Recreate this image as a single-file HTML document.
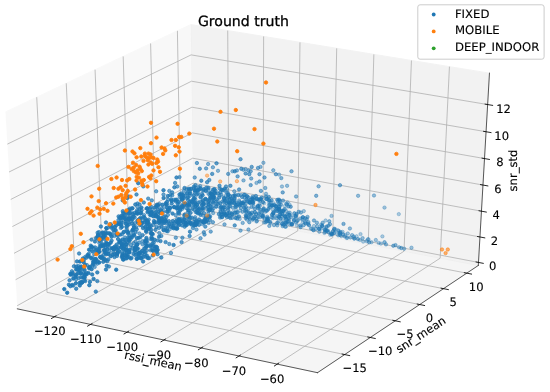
<!DOCTYPE html>
<html><head><meta charset="utf-8"><style>
html,body{margin:0;padding:0;background:#fff;}
body{width:550px;height:392px;overflow:hidden;}
svg{display:block;}
text{text-rendering:geometricPrecision;}
</style></head><body>
<svg width="550" height="392" viewBox="0 0 550 392"> <defs> <style type="text/css">*{stroke-linejoin: round; stroke-linecap: butt}</style> </defs> <g id="figure_1"> <g id="pane3d_1"> <g id="patch_1"> <path d="M 17.37 308.85  L 193.44 210.88  L 190.70 24.54  L 5.42 111.96  " style="fill: #f2f2f2; opacity: 0.5; stroke: #f2f2f2; stroke-linejoin: miter"/> </g> </g> <g id="pane3d_2"> <g id="patch_2"> <path d="M 193.44 210.88  L 478.30 265.47  L 489.47 73.17  L 190.70 24.54  " style="fill: #e6e6e6; opacity: 0.5; stroke: #e6e6e6; stroke-linejoin: miter"/> </g> </g> <g id="pane3d_3"> <g id="patch_3"> <path d="M 17.37 308.85  L 317.50 372.68  L 478.30 265.47  L 193.44 210.88  " style="fill: #ececec; opacity: 0.5; stroke: #ececec; stroke-linejoin: miter"/> </g> </g> <g id="grid3d_1"> <g id="Line3DCollection_1"> <path d="M 54.51 316.75  L 228.80 217.65  L 227.72 30.57  " style="fill: none; stroke: #b0b0b0; stroke-width: 0.8"/> <path d="M 90.57 324.41  L 263.10 224.23  L 263.64 36.41  " style="fill: none; stroke: #b0b0b0; stroke-width: 0.8"/> <path d="M 127.04 332.17  L 297.76 230.87  L 299.97 42.33  " style="fill: none; stroke: #b0b0b0; stroke-width: 0.8"/> <path d="M 163.94 340.02  L 332.80 237.58  L 336.71 48.31  " style="fill: none; stroke: #b0b0b0; stroke-width: 0.8"/> <path d="M 201.26 347.96  L 368.22 244.37  L 373.86 54.35  " style="fill: none; stroke: #b0b0b0; stroke-width: 0.8"/> <path d="M 239.03 355.99  L 404.02 251.23  L 411.43 60.47  " style="fill: none; stroke: #b0b0b0; stroke-width: 0.8"/> <path d="M 277.23 364.11  L 440.20 258.17  L 449.44 66.65  " style="fill: none; stroke: #b0b0b0; stroke-width: 0.8"/> </g> </g> <g id="grid3d_2"> <g id="Line3DCollection_2"> <path d="M 36.72 97.19  L 47.02 292.35  L 344.66 354.57  " style="fill: none; stroke: #b0b0b0; stroke-width: 0.8"/> <path d="M 66.26 83.25  L 75.04 276.76  L 370.29 337.48  " style="fill: none; stroke: #b0b0b0; stroke-width: 0.8"/> <path d="M 95.07 69.66  L 102.40 261.54  L 395.30 320.81  " style="fill: none; stroke: #b0b0b0; stroke-width: 0.8"/> <path d="M 123.18 56.40  L 129.12 246.66  L 419.69 304.54  " style="fill: none; stroke: #b0b0b0; stroke-width: 0.8"/> <path d="M 150.61 43.45  L 155.24 232.13  L 443.51 288.67  " style="fill: none; stroke: #b0b0b0; stroke-width: 0.8"/> <path d="M 177.40 30.81  L 180.76 217.93  L 466.76 273.16  " style="fill: none; stroke: #b0b0b0; stroke-width: 0.8"/> </g> </g> <g id="grid3d_3"> <g id="Line3DCollection_3"> <path d="M 478.48 262.42  L 193.39 207.92  L 17.18 305.73  " style="fill: none; stroke: #b0b0b0; stroke-width: 0.8"/> <path d="M 479.96 236.97  L 193.03 183.21  L 15.60 279.71  " style="fill: none; stroke: #b0b0b0; stroke-width: 0.8"/> <path d="M 481.45 211.18  L 192.66 158.19  L 14.00 253.33  " style="fill: none; stroke: #b0b0b0; stroke-width: 0.8"/> <path d="M 482.97 185.05  L 192.29 132.86  L 12.38 226.59  " style="fill: none; stroke: #b0b0b0; stroke-width: 0.8"/> <path d="M 484.51 158.57  L 191.91 107.20  L 10.73 199.48  " style="fill: none; stroke: #b0b0b0; stroke-width: 0.8"/> <path d="M 486.07 131.74  L 191.53 81.21  L 9.06 172.00  " style="fill: none; stroke: #b0b0b0; stroke-width: 0.8"/> <path d="M 487.65 104.55  L 191.14 54.89  L 7.37 144.13  " style="fill: none; stroke: #b0b0b0; stroke-width: 0.8"/> </g> </g> <g id="axis3d_1"> <g id="line2d_1"> <path d="M 17.37 308.85  L 317.50 372.68  " style="fill: none; stroke: #3a3a3a; stroke-width: 0.85; stroke-linecap: square"/> </g> <g id="xtick_1"> <g id="line2d_2"> <path d="M 56.01 315.89  L 51.49 318.46  " style="fill: none; stroke: #000000; stroke-width: 0.85; stroke-linecap: square"/> </g> </g> <g id="xtick_2"> <g id="line2d_3"> <path d="M 92.06 323.55  L 87.58 326.15  " style="fill: none; stroke: #000000; stroke-width: 0.85; stroke-linecap: square"/> </g> </g> <g id="xtick_3"> <g id="line2d_4"> <path d="M 128.52 331.30  L 124.08 333.93  " style="fill: none; stroke: #000000; stroke-width: 0.85; stroke-linecap: square"/> </g> </g> <g id="xtick_4"> <g id="line2d_5"> <path d="M 165.40 339.13  L 161.01 341.79  " style="fill: none; stroke: #000000; stroke-width: 0.85; stroke-linecap: square"/> </g> </g> <g id="xtick_5"> <g id="line2d_6"> <path d="M 202.71 347.06  L 198.37 349.75  " style="fill: none; stroke: #000000; stroke-width: 0.85; stroke-linecap: square"/> </g> </g> <g id="xtick_6"> <g id="line2d_7"> <path d="M 240.45 355.08  L 236.17 357.80  " style="fill: none; stroke: #000000; stroke-width: 0.85; stroke-linecap: square"/> </g> </g> <g id="xtick_7"> <g id="line2d_8"> <path d="M 278.64 363.20  L 274.41 365.95  " style="fill: none; stroke: #000000; stroke-width: 0.85; stroke-linecap: square"/> </g> </g> </g> <g id="axis3d_2"> <g id="line2d_9"> <path d="M 478.30 265.47  L 317.50 372.68  " style="fill: none; stroke: #3a3a3a; stroke-width: 0.85; stroke-linecap: square"/> </g> <g id="xtick_8"> <g id="line2d_10"> <path d="M 342.17 354.05  L 349.65 355.61  " style="fill: none; stroke: #000000; stroke-width: 0.85; stroke-linecap: square"/> </g> </g> <g id="xtick_9"> <g id="line2d_11"> <path d="M 367.82 336.97  L 375.24 338.50  " style="fill: none; stroke: #000000; stroke-width: 0.85; stroke-linecap: square"/> </g> </g> <g id="xtick_10"> <g id="line2d_12"> <path d="M 392.84 320.31  L 400.20 321.80  " style="fill: none; stroke: #000000; stroke-width: 0.85; stroke-linecap: square"/> </g> </g> <g id="xtick_11"> <g id="line2d_13"> <path d="M 417.26 304.06  L 424.56 305.51  " style="fill: none; stroke: #000000; stroke-width: 0.85; stroke-linecap: square"/> </g> </g> <g id="xtick_12"> <g id="line2d_14"> <path d="M 441.10 288.19  L 448.33 289.61  " style="fill: none; stroke: #000000; stroke-width: 0.85; stroke-linecap: square"/> </g> </g> <g id="xtick_13"> <g id="line2d_15"> <path d="M 464.37 272.70  L 471.54 274.09  " style="fill: none; stroke: #000000; stroke-width: 0.85; stroke-linecap: square"/> </g> </g> </g> <g id="axis3d_3"> <g id="line2d_16"> <path d="M 478.30 265.47  L 489.47 73.17  " style="fill: none; stroke: #3a3a3a; stroke-width: 0.85; stroke-linecap: square"/> </g> <g id="xtick_14"> <g id="line2d_17"> <path d="M 476.10 261.97  L 483.25 263.33  " style="fill: none; stroke: #000000; stroke-width: 0.85; stroke-linecap: square"/> </g> </g> <g id="xtick_15"> <g id="line2d_18"> <path d="M 477.56 236.52  L 484.76 237.87  " style="fill: none; stroke: #000000; stroke-width: 0.85; stroke-linecap: square"/> </g> </g> <g id="xtick_16"> <g id="line2d_19"> <path d="M 479.04 210.74  L 486.29 212.07  " style="fill: none; stroke: #000000; stroke-width: 0.85; stroke-linecap: square"/> </g> </g> <g id="xtick_17"> <g id="line2d_20"> <path d="M 480.54 184.61  L 487.84 185.92  " style="fill: none; stroke: #000000; stroke-width: 0.85; stroke-linecap: square"/> </g> </g> <g id="xtick_18"> <g id="line2d_21"> <path d="M 482.06 158.14  L 489.41 159.43  " style="fill: none; stroke: #000000; stroke-width: 0.85; stroke-linecap: square"/> </g> </g> <g id="xtick_19"> <g id="line2d_22"> <path d="M 483.60 131.32  L 491.00 132.59  " style="fill: none; stroke: #000000; stroke-width: 0.85; stroke-linecap: square"/> </g> </g> <g id="xtick_20"> <g id="line2d_23"> <path d="M 485.16 104.14  L 492.61 105.38  " style="fill: none; stroke: #000000; stroke-width: 0.85; stroke-linecap: square"/> </g> </g> </g> <g id="axes_1"/> </g> <g style="stroke-width:0.9"><g style="fill:#1f77b4;stroke:#1f77b4;fill-opacity:0.3;stroke-opacity:0.3"><circle cx="258.8" cy="214.3" r="1.7"/><circle cx="286.1" cy="222.7" r="1.7"/><circle cx="265.3" cy="211.9" r="1.7"/><circle cx="252.9" cy="199.1" r="1.7"/><circle cx="253.5" cy="218.7" r="1.7"/><circle cx="279.0" cy="216.3" r="1.7"/><circle cx="252.8" cy="199.2" r="1.7"/><circle cx="264.2" cy="203.2" r="1.7"/><circle cx="277.0" cy="204.0" r="1.7"/><circle cx="289.5" cy="214.9" r="1.7"/><circle cx="267.1" cy="199.1" r="1.7"/><circle cx="288.2" cy="212.9" r="1.7"/><circle cx="284.5" cy="206.3" r="1.7"/><circle cx="285.4" cy="208.9" r="1.7"/><circle cx="288.1" cy="214.5" r="1.7"/><circle cx="289.5" cy="204.4" r="1.7"/><circle cx="269.1" cy="202.8" r="1.7"/><circle cx="335.7" cy="229.4" r="1.7"/><circle cx="326.9" cy="230.9" r="1.7"/><circle cx="292.0" cy="224.5" r="1.7"/><circle cx="324.8" cy="232.0" r="1.7"/><circle cx="338.0" cy="230.3" r="1.7"/><circle cx="332.1" cy="234.0" r="1.7"/><circle cx="368.5" cy="239.3" r="1.7"/><circle cx="302.8" cy="222.2" r="1.7"/><circle cx="302.8" cy="219.8" r="1.7"/><circle cx="341.3" cy="236.2" r="1.7"/><circle cx="335.0" cy="232.6" r="1.7"/><circle cx="297.0" cy="225.5" r="1.7"/><circle cx="345.4" cy="234.9" r="1.7"/><circle cx="321.1" cy="228.7" r="1.7"/><circle cx="306.1" cy="223.6" r="1.7"/><circle cx="328.0" cy="230.6" r="1.7"/><circle cx="312.7" cy="228.9" r="1.7"/><circle cx="324.4" cy="233.0" r="1.7"/><circle cx="339.0" cy="232.8" r="1.7"/><circle cx="298.2" cy="219.9" r="1.7"/><circle cx="302.9" cy="217.2" r="1.7"/><circle cx="326.3" cy="227.5" r="1.7"/><circle cx="356.6" cy="236.3" r="1.7"/></g><g style="fill:#1f77b4;stroke:#1f77b4;fill-opacity:0.35;stroke-opacity:0.35"><circle cx="325.6" cy="220.5" r="1.7"/><circle cx="360.5" cy="234.1" r="1.7"/><circle cx="398.8" cy="214.1" r="1.7"/><circle cx="382.4" cy="236.4" r="1.7"/><circle cx="371.5" cy="242.2" r="1.7"/><circle cx="378.7" cy="242.9" r="1.7"/><circle cx="380.9" cy="243.6" r="1.7"/><circle cx="252.9" cy="218.9" r="1.7"/><circle cx="278.9" cy="221.0" r="1.7"/><circle cx="238.4" cy="194.7" r="1.7"/><circle cx="270.4" cy="223.2" r="1.7"/><circle cx="285.0" cy="223.0" r="1.7"/><circle cx="236.7" cy="215.6" r="1.7"/><circle cx="272.8" cy="209.5" r="1.7"/><circle cx="268.8" cy="205.5" r="1.7"/><circle cx="276.6" cy="207.1" r="1.7"/><circle cx="268.3" cy="209.2" r="1.7"/><circle cx="270.5" cy="202.8" r="1.7"/><circle cx="285.7" cy="216.5" r="1.7"/><circle cx="246.6" cy="199.4" r="1.7"/><circle cx="287.7" cy="218.1" r="1.7"/><circle cx="287.2" cy="214.3" r="1.7"/><circle cx="240.2" cy="210.5" r="1.7"/><circle cx="278.0" cy="201.3" r="1.7"/><circle cx="273.4" cy="203.1" r="1.7"/><circle cx="244.1" cy="203.4" r="1.7"/><circle cx="272.4" cy="214.6" r="1.7"/><circle cx="271.2" cy="205.9" r="1.7"/><circle cx="287.6" cy="202.5" r="1.7"/><circle cx="279.3" cy="208.6" r="1.7"/><circle cx="282.1" cy="223.9" r="1.7"/><circle cx="264.0" cy="222.5" r="1.7"/><circle cx="286.3" cy="211.1" r="1.7"/><circle cx="330.2" cy="234.8" r="1.7"/><circle cx="363.2" cy="241.6" r="1.7"/><circle cx="367.9" cy="239.3" r="1.7"/><circle cx="347.4" cy="237.8" r="1.7"/><circle cx="291.0" cy="215.5" r="1.7"/><circle cx="359.9" cy="239.9" r="1.7"/><circle cx="302.1" cy="218.7" r="1.7"/><circle cx="346.6" cy="237.9" r="1.7"/><circle cx="292.1" cy="224.5" r="1.7"/><circle cx="300.3" cy="218.5" r="1.7"/><circle cx="354.2" cy="238.7" r="1.7"/><circle cx="314.0" cy="226.0" r="1.7"/><circle cx="342.6" cy="231.9" r="1.7"/></g><g style="fill:#1f77b4;stroke:#1f77b4;fill-opacity:0.4;stroke-opacity:0.4"><circle cx="282.0" cy="186.5" r="1.7"/><circle cx="303.8" cy="211.1" r="1.7"/><circle cx="331.5" cy="215.9" r="1.7"/><circle cx="384.5" cy="207.6" r="1.7"/><circle cx="375.8" cy="240.0" r="1.7"/><circle cx="399.1" cy="247.3" r="1.7"/><circle cx="404.2" cy="248.7" r="1.7"/><circle cx="411.5" cy="247.7" r="1.7"/><circle cx="279.1" cy="174.6" r="1.7"/><circle cx="209.8" cy="198.6" r="1.7"/><circle cx="206.7" cy="200.0" r="1.7"/><circle cx="259.6" cy="203.9" r="1.7"/><circle cx="217.7" cy="200.8" r="1.7"/><circle cx="279.7" cy="206.4" r="1.7"/><circle cx="234.6" cy="203.6" r="1.7"/><circle cx="258.3" cy="216.9" r="1.7"/><circle cx="280.1" cy="201.8" r="1.7"/><circle cx="273.6" cy="212.1" r="1.7"/><circle cx="253.0" cy="203.4" r="1.7"/><circle cx="248.8" cy="217.8" r="1.7"/><circle cx="275.6" cy="210.5" r="1.7"/><circle cx="248.4" cy="208.5" r="1.7"/><circle cx="241.1" cy="203.1" r="1.7"/><circle cx="250.4" cy="202.4" r="1.7"/><circle cx="246.7" cy="199.6" r="1.7"/><circle cx="273.3" cy="218.2" r="1.7"/><circle cx="227.1" cy="189.1" r="1.7"/><circle cx="268.5" cy="208.7" r="1.7"/><circle cx="284.8" cy="215.7" r="1.7"/><circle cx="260.6" cy="209.6" r="1.7"/><circle cx="289.8" cy="224.4" r="1.7"/><circle cx="239.7" cy="219.0" r="1.7"/><circle cx="266.8" cy="218.2" r="1.7"/><circle cx="259.9" cy="217.3" r="1.7"/><circle cx="235.2" cy="194.4" r="1.7"/><circle cx="246.1" cy="212.0" r="1.7"/><circle cx="256.9" cy="198.9" r="1.7"/><circle cx="248.0" cy="216.6" r="1.7"/><circle cx="212.9" cy="197.3" r="1.7"/><circle cx="257.0" cy="220.8" r="1.7"/><circle cx="232.9" cy="212.3" r="1.7"/><circle cx="227.9" cy="208.1" r="1.7"/><circle cx="266.9" cy="219.4" r="1.7"/><circle cx="268.6" cy="221.1" r="1.7"/><circle cx="251.9" cy="197.8" r="1.7"/><circle cx="261.2" cy="212.5" r="1.7"/><circle cx="222.5" cy="210.1" r="1.7"/><circle cx="222.8" cy="214.3" r="1.7"/><circle cx="262.7" cy="217.0" r="1.7"/><circle cx="220.3" cy="216.1" r="1.7"/><circle cx="242.4" cy="205.2" r="1.7"/><circle cx="257.5" cy="207.1" r="1.7"/><circle cx="259.7" cy="209.3" r="1.7"/><circle cx="284.3" cy="209.5" r="1.7"/><circle cx="236.0" cy="209.8" r="1.7"/><circle cx="252.6" cy="219.8" r="1.7"/><circle cx="262.5" cy="212.0" r="1.7"/><circle cx="253.9" cy="206.6" r="1.7"/><circle cx="219.6" cy="195.5" r="1.7"/><circle cx="229.3" cy="202.6" r="1.7"/><circle cx="254.3" cy="197.1" r="1.7"/><circle cx="227.7" cy="192.5" r="1.7"/><circle cx="285.9" cy="226.6" r="1.7"/><circle cx="273.9" cy="215.5" r="1.7"/><circle cx="277.3" cy="208.5" r="1.7"/><circle cx="286.2" cy="203.5" r="1.7"/><circle cx="285.2" cy="226.7" r="1.7"/><circle cx="338.7" cy="231.0" r="1.7"/><circle cx="325.4" cy="230.9" r="1.7"/><circle cx="350.4" cy="237.5" r="1.7"/><circle cx="305.4" cy="223.2" r="1.7"/><circle cx="331.5" cy="234.1" r="1.7"/><circle cx="319.3" cy="231.7" r="1.7"/><circle cx="338.2" cy="235.3" r="1.7"/><circle cx="290.9" cy="217.3" r="1.7"/><circle cx="366.6" cy="241.1" r="1.7"/><circle cx="347.8" cy="233.5" r="1.7"/><circle cx="321.1" cy="224.8" r="1.7"/></g><g style="fill:#1f77b4;stroke:#1f77b4;fill-opacity:0.45;stroke-opacity:0.45"><circle cx="256.5" cy="182.9" r="1.7"/><circle cx="266.0" cy="193.8" r="1.7"/><circle cx="287.1" cy="185.8" r="1.7"/><circle cx="358.1" cy="195.8" r="1.7"/><circle cx="349.9" cy="228.5" r="1.7"/><circle cx="386.0" cy="244.4" r="1.7"/><circle cx="374.0" cy="195.5" r="1.7"/><circle cx="263.4" cy="162.8" r="1.7"/><circle cx="245.6" cy="169.1" r="1.7"/><circle cx="208.3" cy="211.0" r="1.7"/><circle cx="203.4" cy="215.7" r="1.7"/><circle cx="186.9" cy="198.3" r="1.7"/><circle cx="192.2" cy="218.4" r="1.7"/><circle cx="205.4" cy="218.8" r="1.7"/><circle cx="195.4" cy="224.0" r="1.7"/><circle cx="201.9" cy="202.0" r="1.7"/><circle cx="207.1" cy="220.5" r="1.7"/><circle cx="200.1" cy="201.8" r="1.7"/><circle cx="191.8" cy="205.2" r="1.7"/><circle cx="201.2" cy="213.2" r="1.7"/><circle cx="188.1" cy="197.8" r="1.7"/><circle cx="189.8" cy="213.2" r="1.7"/><circle cx="205.7" cy="216.2" r="1.7"/><circle cx="194.6" cy="224.9" r="1.7"/><circle cx="209.5" cy="217.4" r="1.7"/><circle cx="208.8" cy="209.5" r="1.7"/><circle cx="208.4" cy="213.2" r="1.7"/><circle cx="195.1" cy="197.9" r="1.7"/><circle cx="195.4" cy="199.7" r="1.7"/><circle cx="203.9" cy="223.0" r="1.7"/><circle cx="202.9" cy="199.7" r="1.7"/><circle cx="286.1" cy="223.6" r="1.7"/><circle cx="224.1" cy="198.0" r="1.7"/><circle cx="246.9" cy="219.6" r="1.7"/><circle cx="289.7" cy="212.7" r="1.7"/><circle cx="246.4" cy="215.8" r="1.7"/><circle cx="245.9" cy="209.9" r="1.7"/><circle cx="281.4" cy="211.3" r="1.7"/><circle cx="258.1" cy="208.4" r="1.7"/><circle cx="276.6" cy="223.3" r="1.7"/><circle cx="239.1" cy="200.5" r="1.7"/><circle cx="249.5" cy="202.5" r="1.7"/><circle cx="223.7" cy="197.6" r="1.7"/><circle cx="228.2" cy="195.6" r="1.7"/><circle cx="244.2" cy="207.2" r="1.7"/><circle cx="268.7" cy="200.0" r="1.7"/><circle cx="216.2" cy="201.4" r="1.7"/><circle cx="244.9" cy="210.7" r="1.7"/><circle cx="223.9" cy="202.0" r="1.7"/><circle cx="249.7" cy="213.4" r="1.7"/><circle cx="257.8" cy="206.0" r="1.7"/><circle cx="225.6" cy="196.0" r="1.7"/><circle cx="267.1" cy="199.1" r="1.7"/><circle cx="247.5" cy="196.4" r="1.7"/><circle cx="227.0" cy="217.2" r="1.7"/><circle cx="262.0" cy="215.8" r="1.7"/><circle cx="286.0" cy="218.4" r="1.7"/><circle cx="244.6" cy="208.2" r="1.7"/><circle cx="277.3" cy="225.3" r="1.7"/><circle cx="231.7" cy="199.6" r="1.7"/><circle cx="214.5" cy="189.1" r="1.7"/><circle cx="229.5" cy="215.7" r="1.7"/><circle cx="283.0" cy="220.2" r="1.7"/><circle cx="224.1" cy="213.3" r="1.7"/><circle cx="267.3" cy="216.7" r="1.7"/><circle cx="256.5" cy="221.5" r="1.7"/><circle cx="277.8" cy="222.6" r="1.7"/><circle cx="285.2" cy="216.7" r="1.7"/><circle cx="277.5" cy="216.0" r="1.7"/><circle cx="239.7" cy="202.0" r="1.7"/><circle cx="295.1" cy="216.2" r="1.7"/><circle cx="328.3" cy="232.0" r="1.7"/><circle cx="354.4" cy="238.4" r="1.7"/><circle cx="352.1" cy="235.1" r="1.7"/><circle cx="305.1" cy="221.9" r="1.7"/><circle cx="315.8" cy="229.0" r="1.7"/><circle cx="334.3" cy="233.0" r="1.7"/><circle cx="362.6" cy="238.1" r="1.7"/><circle cx="295.8" cy="217.1" r="1.7"/><circle cx="334.3" cy="228.7" r="1.7"/><circle cx="332.0" cy="234.5" r="1.7"/><circle cx="305.2" cy="218.3" r="1.7"/><circle cx="294.0" cy="220.7" r="1.7"/><circle cx="334.3" cy="229.3" r="1.7"/><circle cx="317.3" cy="226.2" r="1.7"/><circle cx="324.8" cy="229.8" r="1.7"/><circle cx="344.8" cy="236.4" r="1.7"/></g><g style="fill:#1f77b4;stroke:#1f77b4;fill-opacity:0.5;stroke-opacity:0.5"><circle cx="205.6" cy="190.9" r="1.7"/><circle cx="243.5" cy="180.4" r="1.7"/><circle cx="265.3" cy="188.0" r="1.7"/><circle cx="242.7" cy="222.9" r="1.7"/><circle cx="248.5" cy="229.5" r="1.7"/><circle cx="274.0" cy="225.1" r="1.7"/><circle cx="296.1" cy="196.5" r="1.7"/><circle cx="298.7" cy="211.8" r="1.7"/><circle cx="300.9" cy="212.5" r="1.7"/><circle cx="307.5" cy="216.9" r="1.7"/><circle cx="314.0" cy="220.5" r="1.7"/><circle cx="316.9" cy="222.7" r="1.7"/><circle cx="322.7" cy="222.7" r="1.7"/><circle cx="329.3" cy="221.3" r="1.7"/><circle cx="330.0" cy="224.2" r="1.7"/><circle cx="328.5" cy="225.6" r="1.7"/><circle cx="384.5" cy="242.2" r="1.7"/><circle cx="393.3" cy="245.8" r="1.7"/><circle cx="395.5" cy="245.1" r="1.7"/><circle cx="401.3" cy="248.0" r="1.7"/><circle cx="318.6" cy="186.3" r="1.7"/><circle cx="260.5" cy="166.9" r="1.7"/><circle cx="273.3" cy="170.3" r="1.7"/><circle cx="218.0" cy="170.8" r="1.7"/><circle cx="232.5" cy="171.3" r="1.7"/><circle cx="243.5" cy="169.8" r="1.7"/><circle cx="222.0" cy="217.2" r="1.7"/><circle cx="265.6" cy="222.3" r="1.7"/><circle cx="269.3" cy="225.9" r="1.7"/><circle cx="197.3" cy="221.7" r="1.7"/><circle cx="206.9" cy="187.5" r="1.7"/><circle cx="200.3" cy="186.2" r="1.7"/><circle cx="179.7" cy="218.9" r="1.7"/><circle cx="194.8" cy="192.4" r="1.7"/><circle cx="182.7" cy="218.6" r="1.7"/><circle cx="199.6" cy="212.8" r="1.7"/><circle cx="205.8" cy="188.1" r="1.7"/><circle cx="186.3" cy="208.0" r="1.7"/><circle cx="206.0" cy="205.3" r="1.7"/><circle cx="208.5" cy="190.3" r="1.7"/><circle cx="184.8" cy="195.7" r="1.7"/><circle cx="173.8" cy="228.4" r="1.7"/><circle cx="187.3" cy="205.5" r="1.7"/><circle cx="187.5" cy="208.7" r="1.7"/><circle cx="205.1" cy="221.7" r="1.7"/><circle cx="190.1" cy="190.8" r="1.7"/><circle cx="206.6" cy="208.1" r="1.7"/><circle cx="193.7" cy="202.9" r="1.7"/><circle cx="202.5" cy="204.6" r="1.7"/><circle cx="202.5" cy="224.1" r="1.7"/><circle cx="193.8" cy="205.1" r="1.7"/><circle cx="194.8" cy="218.8" r="1.7"/><circle cx="169.9" cy="207.9" r="1.7"/><circle cx="167.5" cy="205.0" r="1.7"/><circle cx="173.7" cy="225.1" r="1.7"/><circle cx="191.8" cy="217.5" r="1.7"/><circle cx="188.2" cy="210.3" r="1.7"/><circle cx="207.2" cy="219.8" r="1.7"/><circle cx="201.2" cy="209.7" r="1.7"/><circle cx="209.4" cy="216.7" r="1.7"/><circle cx="178.3" cy="208.3" r="1.7"/><circle cx="178.6" cy="223.0" r="1.7"/><circle cx="166.9" cy="207.5" r="1.7"/><circle cx="196.7" cy="190.7" r="1.7"/><circle cx="179.1" cy="201.8" r="1.7"/><circle cx="197.4" cy="210.2" r="1.7"/><circle cx="186.1" cy="204.6" r="1.7"/><circle cx="169.9" cy="229.1" r="1.7"/><circle cx="260.3" cy="198.9" r="1.7"/><circle cx="272.5" cy="205.6" r="1.7"/><circle cx="210.2" cy="216.2" r="1.7"/><circle cx="251.0" cy="199.6" r="1.7"/><circle cx="242.8" cy="202.9" r="1.7"/><circle cx="262.5" cy="216.0" r="1.7"/><circle cx="276.0" cy="209.4" r="1.7"/><circle cx="220.5" cy="210.9" r="1.7"/><circle cx="264.8" cy="218.9" r="1.7"/><circle cx="245.7" cy="215.1" r="1.7"/><circle cx="282.0" cy="213.7" r="1.7"/><circle cx="286.5" cy="219.5" r="1.7"/><circle cx="210.1" cy="203.5" r="1.7"/><circle cx="234.3" cy="191.3" r="1.7"/><circle cx="229.0" cy="202.8" r="1.7"/><circle cx="259.8" cy="205.7" r="1.7"/><circle cx="272.0" cy="214.8" r="1.7"/><circle cx="245.8" cy="203.5" r="1.7"/><circle cx="225.5" cy="215.3" r="1.7"/><circle cx="227.9" cy="197.5" r="1.7"/><circle cx="282.7" cy="226.1" r="1.7"/><circle cx="282.6" cy="210.8" r="1.7"/><circle cx="228.3" cy="194.6" r="1.7"/><circle cx="240.9" cy="208.0" r="1.7"/><circle cx="270.0" cy="207.3" r="1.7"/><circle cx="279.2" cy="203.8" r="1.7"/><circle cx="276.0" cy="206.2" r="1.7"/><circle cx="245.0" cy="194.8" r="1.7"/><circle cx="214.7" cy="192.9" r="1.7"/><circle cx="216.3" cy="203.6" r="1.7"/><circle cx="283.4" cy="210.7" r="1.7"/><circle cx="231.2" cy="203.6" r="1.7"/><circle cx="269.7" cy="204.8" r="1.7"/><circle cx="253.9" cy="218.0" r="1.7"/><circle cx="289.0" cy="221.3" r="1.7"/><circle cx="267.1" cy="210.6" r="1.7"/><circle cx="279.2" cy="209.1" r="1.7"/><circle cx="285.1" cy="216.8" r="1.7"/><circle cx="232.9" cy="207.7" r="1.7"/><circle cx="276.6" cy="218.2" r="1.7"/><circle cx="224.9" cy="209.5" r="1.7"/><circle cx="213.5" cy="197.8" r="1.7"/><circle cx="254.5" cy="199.7" r="1.7"/><circle cx="241.0" cy="195.1" r="1.7"/><circle cx="221.1" cy="214.1" r="1.7"/><circle cx="281.4" cy="216.4" r="1.7"/><circle cx="251.6" cy="215.3" r="1.7"/><circle cx="282.5" cy="214.2" r="1.7"/><circle cx="213.2" cy="213.0" r="1.7"/><circle cx="246.7" cy="211.4" r="1.7"/><circle cx="256.5" cy="218.2" r="1.7"/><circle cx="242.5" cy="211.7" r="1.7"/><circle cx="289.2" cy="214.9" r="1.7"/><circle cx="266.0" cy="198.9" r="1.7"/><circle cx="252.8" cy="196.6" r="1.7"/><circle cx="210.1" cy="195.8" r="1.7"/><circle cx="228.7" cy="216.9" r="1.7"/><circle cx="325.2" cy="229.5" r="1.7"/><circle cx="340.5" cy="232.0" r="1.7"/><circle cx="319.0" cy="229.0" r="1.7"/><circle cx="369.2" cy="242.3" r="1.7"/><circle cx="357.9" cy="239.1" r="1.7"/><circle cx="308.4" cy="222.1" r="1.7"/><circle cx="311.1" cy="228.5" r="1.7"/><circle cx="340.0" cy="234.9" r="1.7"/><circle cx="353.7" cy="236.6" r="1.7"/><circle cx="292.0" cy="224.0" r="1.7"/><circle cx="300.6" cy="227.2" r="1.7"/><circle cx="343.1" cy="234.4" r="1.7"/><circle cx="303.6" cy="225.2" r="1.7"/><circle cx="295.9" cy="222.3" r="1.7"/><circle cx="297.2" cy="220.9" r="1.7"/><circle cx="308.1" cy="223.8" r="1.7"/></g><g style="fill:#1f77b4;stroke:#1f77b4;fill-opacity:0.55;stroke-opacity:0.55"><circle cx="208.5" cy="193.8" r="1.7"/><circle cx="224.5" cy="224.4" r="1.7"/><circle cx="249.3" cy="222.2" r="1.7"/><circle cx="240.5" cy="230.6" r="1.7"/><circle cx="316.2" cy="195.8" r="1.7"/><circle cx="294.4" cy="213.3" r="1.7"/><circle cx="306.7" cy="219.1" r="1.7"/><circle cx="343.5" cy="223.9" r="1.7"/><circle cx="340.0" cy="185.2" r="1.7"/><circle cx="250.7" cy="171.3" r="1.7"/><circle cx="291.5" cy="171.3" r="1.7"/><circle cx="281.3" cy="178.1" r="1.7"/><circle cx="251.2" cy="178.5" r="1.7"/><circle cx="208.1" cy="164.0" r="1.7"/><circle cx="212.9" cy="167.3" r="1.7"/><circle cx="236.9" cy="170.5" r="1.7"/><circle cx="248.5" cy="170.5" r="1.7"/><circle cx="198.5" cy="187.1" r="1.7"/><circle cx="196.5" cy="229.5" r="1.7"/><circle cx="208.6" cy="223.0" r="1.7"/><circle cx="232.2" cy="217.9" r="1.7"/><circle cx="146.2" cy="240.2" r="1.7"/><circle cx="147.8" cy="243.5" r="1.7"/><circle cx="156.2" cy="246.7" r="1.7"/><circle cx="147.6" cy="240.2" r="1.7"/><circle cx="146.9" cy="250.5" r="1.7"/><circle cx="142.5" cy="241.1" r="1.7"/><circle cx="152.4" cy="238.9" r="1.7"/><circle cx="144.7" cy="241.0" r="1.7"/><circle cx="149.9" cy="224.4" r="1.7"/><circle cx="153.3" cy="216.4" r="1.7"/><circle cx="175.7" cy="201.5" r="1.7"/><circle cx="184.2" cy="219.2" r="1.7"/><circle cx="164.5" cy="221.3" r="1.7"/><circle cx="182.1" cy="220.9" r="1.7"/><circle cx="198.9" cy="213.1" r="1.7"/><circle cx="187.1" cy="193.1" r="1.7"/><circle cx="163.8" cy="216.8" r="1.7"/><circle cx="208.8" cy="204.5" r="1.7"/><circle cx="182.6" cy="194.5" r="1.7"/><circle cx="182.5" cy="208.7" r="1.7"/><circle cx="195.2" cy="217.2" r="1.7"/><circle cx="152.9" cy="234.2" r="1.7"/><circle cx="202.4" cy="221.2" r="1.7"/><circle cx="179.7" cy="196.7" r="1.7"/><circle cx="185.4" cy="219.9" r="1.7"/><circle cx="203.6" cy="203.9" r="1.7"/><circle cx="169.9" cy="207.6" r="1.7"/><circle cx="208.4" cy="203.8" r="1.7"/><circle cx="168.1" cy="209.5" r="1.7"/><circle cx="161.7" cy="226.2" r="1.7"/><circle cx="163.9" cy="230.4" r="1.7"/><circle cx="163.2" cy="210.7" r="1.7"/><circle cx="190.2" cy="217.6" r="1.7"/><circle cx="167.4" cy="208.1" r="1.7"/><circle cx="164.8" cy="216.1" r="1.7"/><circle cx="139.8" cy="218.8" r="1.7"/><circle cx="174.3" cy="207.1" r="1.7"/><circle cx="190.9" cy="189.1" r="1.7"/><circle cx="200.9" cy="196.5" r="1.7"/><circle cx="168.4" cy="222.1" r="1.7"/><circle cx="197.0" cy="221.8" r="1.7"/><circle cx="154.5" cy="222.4" r="1.7"/><circle cx="159.3" cy="233.0" r="1.7"/><circle cx="163.9" cy="223.0" r="1.7"/><circle cx="188.8" cy="216.3" r="1.7"/><circle cx="164.2" cy="206.9" r="1.7"/><circle cx="166.2" cy="204.4" r="1.7"/><circle cx="166.6" cy="230.6" r="1.7"/><circle cx="202.7" cy="210.0" r="1.7"/><circle cx="165.5" cy="220.1" r="1.7"/><circle cx="168.0" cy="209.3" r="1.7"/><circle cx="197.9" cy="190.4" r="1.7"/><circle cx="195.0" cy="225.4" r="1.7"/><circle cx="195.6" cy="224.4" r="1.7"/><circle cx="150.0" cy="208.5" r="1.7"/><circle cx="181.6" cy="198.3" r="1.7"/><circle cx="189.0" cy="189.6" r="1.7"/><circle cx="167.9" cy="211.4" r="1.7"/><circle cx="183.8" cy="197.9" r="1.7"/><circle cx="177.7" cy="209.9" r="1.7"/><circle cx="176.8" cy="223.7" r="1.7"/><circle cx="195.0" cy="190.9" r="1.7"/><circle cx="173.4" cy="223.6" r="1.7"/><circle cx="147.8" cy="221.5" r="1.7"/><circle cx="192.3" cy="201.9" r="1.7"/><circle cx="195.7" cy="187.9" r="1.7"/><circle cx="176.7" cy="208.2" r="1.7"/><circle cx="195.7" cy="212.1" r="1.7"/><circle cx="179.6" cy="224.8" r="1.7"/><circle cx="261.7" cy="197.5" r="1.7"/><circle cx="288.6" cy="206.4" r="1.7"/><circle cx="252.8" cy="201.6" r="1.7"/><circle cx="212.1" cy="206.9" r="1.7"/><circle cx="216.2" cy="206.7" r="1.7"/><circle cx="279.6" cy="210.7" r="1.7"/><circle cx="249.9" cy="218.8" r="1.7"/><circle cx="213.1" cy="208.7" r="1.7"/><circle cx="213.4" cy="196.6" r="1.7"/><circle cx="229.2" cy="213.6" r="1.7"/><circle cx="221.3" cy="206.5" r="1.7"/><circle cx="244.4" cy="197.5" r="1.7"/><circle cx="219.7" cy="188.7" r="1.7"/><circle cx="220.1" cy="217.6" r="1.7"/><circle cx="283.3" cy="224.6" r="1.7"/><circle cx="232.2" cy="202.3" r="1.7"/><circle cx="213.1" cy="198.5" r="1.7"/><circle cx="269.6" cy="200.8" r="1.7"/><circle cx="236.5" cy="206.4" r="1.7"/><circle cx="224.6" cy="207.3" r="1.7"/><circle cx="241.5" cy="203.1" r="1.7"/><circle cx="286.9" cy="204.6" r="1.7"/><circle cx="220.8" cy="212.0" r="1.7"/><circle cx="237.7" cy="212.3" r="1.7"/><circle cx="222.3" cy="201.5" r="1.7"/><circle cx="257.7" cy="199.4" r="1.7"/><circle cx="265.9" cy="196.5" r="1.7"/><circle cx="270.2" cy="221.9" r="1.7"/><circle cx="256.7" cy="198.4" r="1.7"/><circle cx="244.0" cy="201.6" r="1.7"/><circle cx="273.4" cy="213.5" r="1.7"/><circle cx="212.0" cy="192.3" r="1.7"/><circle cx="245.7" cy="218.0" r="1.7"/><circle cx="246.8" cy="196.1" r="1.7"/><circle cx="280.9" cy="204.5" r="1.7"/><circle cx="236.5" cy="212.5" r="1.7"/><circle cx="225.8" cy="214.7" r="1.7"/><circle cx="229.4" cy="212.5" r="1.7"/><circle cx="240.0" cy="204.4" r="1.7"/><circle cx="283.0" cy="200.6" r="1.7"/><circle cx="266.2" cy="210.8" r="1.7"/><circle cx="283.3" cy="211.3" r="1.7"/><circle cx="271.9" cy="217.6" r="1.7"/><circle cx="216.8" cy="199.5" r="1.7"/><circle cx="234.6" cy="198.5" r="1.7"/><circle cx="279.5" cy="200.3" r="1.7"/><circle cx="228.6" cy="206.9" r="1.7"/><circle cx="248.7" cy="212.4" r="1.7"/><circle cx="234.5" cy="195.5" r="1.7"/><circle cx="235.5" cy="206.8" r="1.7"/><circle cx="251.6" cy="206.9" r="1.7"/><circle cx="238.5" cy="195.2" r="1.7"/><circle cx="254.8" cy="209.1" r="1.7"/><circle cx="224.8" cy="205.1" r="1.7"/><circle cx="216.1" cy="206.3" r="1.7"/><circle cx="260.2" cy="200.6" r="1.7"/><circle cx="273.2" cy="212.8" r="1.7"/><circle cx="255.9" cy="214.2" r="1.7"/><circle cx="282.2" cy="223.5" r="1.7"/><circle cx="236.0" cy="205.0" r="1.7"/><circle cx="248.1" cy="197.4" r="1.7"/><circle cx="258.0" cy="206.2" r="1.7"/><circle cx="224.3" cy="212.0" r="1.7"/><circle cx="255.1" cy="216.5" r="1.7"/><circle cx="232.9" cy="196.0" r="1.7"/><circle cx="300.4" cy="225.5" r="1.7"/><circle cx="322.4" cy="226.1" r="1.7"/><circle cx="326.9" cy="230.7" r="1.7"/><circle cx="322.1" cy="225.8" r="1.7"/><circle cx="326.6" cy="226.6" r="1.7"/><circle cx="331.1" cy="233.4" r="1.7"/><circle cx="333.0" cy="231.2" r="1.7"/><circle cx="295.9" cy="215.8" r="1.7"/></g><g style="fill:#1f77b4;stroke:#1f77b4;fill-opacity:0.6;stroke-opacity:0.6"><circle cx="175.8" cy="237.7" r="1.7"/><circle cx="200.5" cy="238.2" r="1.7"/><circle cx="183.8" cy="190.9" r="1.7"/><circle cx="181.6" cy="196.7" r="1.7"/><circle cx="202.0" cy="193.8" r="1.7"/><circle cx="250.7" cy="185.1" r="1.7"/><circle cx="259.5" cy="181.5" r="1.7"/><circle cx="260.9" cy="190.9" r="1.7"/><circle cx="282.7" cy="192.4" r="1.7"/><circle cx="212.9" cy="222.2" r="1.7"/><circle cx="210.7" cy="231.6" r="1.7"/><circle cx="290.7" cy="206.7" r="1.7"/><circle cx="296.5" cy="214.0" r="1.7"/><circle cx="258.0" cy="167.9" r="1.7"/><circle cx="275.9" cy="174.2" r="1.7"/><circle cx="259.5" cy="174.2" r="1.7"/><circle cx="264.5" cy="177.5" r="1.7"/><circle cx="206.1" cy="168.4" r="1.7"/><circle cx="228.2" cy="173.9" r="1.7"/><circle cx="237.6" cy="176.4" r="1.7"/><circle cx="194.7" cy="177.5" r="1.7"/><circle cx="203.8" cy="232.2" r="1.7"/><circle cx="122.8" cy="256.7" r="1.7"/><circle cx="125.3" cy="258.5" r="1.7"/><circle cx="126.5" cy="256.2" r="1.7"/><circle cx="86.9" cy="265.0" r="1.7"/><circle cx="96.4" cy="259.2" r="1.7"/><circle cx="103.6" cy="255.0" r="1.7"/><circle cx="94.7" cy="266.9" r="1.7"/><circle cx="97.2" cy="263.7" r="1.7"/><circle cx="135.2" cy="255.2" r="1.7"/><circle cx="141.7" cy="255.6" r="1.7"/><circle cx="135.5" cy="241.6" r="1.7"/><circle cx="151.5" cy="237.2" r="1.7"/><circle cx="142.6" cy="244.3" r="1.7"/><circle cx="150.6" cy="250.3" r="1.7"/><circle cx="149.4" cy="258.0" r="1.7"/><circle cx="142.2" cy="253.2" r="1.7"/><circle cx="135.0" cy="249.9" r="1.7"/><circle cx="154.7" cy="248.6" r="1.7"/><circle cx="114.2" cy="232.3" r="1.7"/><circle cx="129.1" cy="218.3" r="1.7"/><circle cx="125.7" cy="223.7" r="1.7"/><circle cx="125.0" cy="237.5" r="1.7"/><circle cx="128.1" cy="233.8" r="1.7"/><circle cx="127.7" cy="242.3" r="1.7"/><circle cx="115.3" cy="246.3" r="1.7"/><circle cx="126.6" cy="229.4" r="1.7"/><circle cx="128.2" cy="222.5" r="1.7"/><circle cx="103.6" cy="233.3" r="1.7"/><circle cx="99.3" cy="243.0" r="1.7"/><circle cx="113.4" cy="230.3" r="1.7"/><circle cx="127.6" cy="225.4" r="1.7"/><circle cx="120.8" cy="228.0" r="1.7"/><circle cx="187.5" cy="222.3" r="1.7"/><circle cx="162.6" cy="221.5" r="1.7"/><circle cx="140.6" cy="212.9" r="1.7"/><circle cx="175.6" cy="200.5" r="1.7"/><circle cx="189.3" cy="222.5" r="1.7"/><circle cx="183.6" cy="222.2" r="1.7"/><circle cx="147.8" cy="227.8" r="1.7"/><circle cx="178.7" cy="207.4" r="1.7"/><circle cx="137.1" cy="210.1" r="1.7"/><circle cx="155.8" cy="216.3" r="1.7"/><circle cx="190.7" cy="212.7" r="1.7"/><circle cx="132.5" cy="208.2" r="1.7"/><circle cx="205.8" cy="221.6" r="1.7"/><circle cx="198.4" cy="221.5" r="1.7"/><circle cx="193.5" cy="225.6" r="1.7"/><circle cx="174.1" cy="199.7" r="1.7"/><circle cx="191.0" cy="201.1" r="1.7"/><circle cx="147.1" cy="220.7" r="1.7"/><circle cx="183.1" cy="198.1" r="1.7"/><circle cx="197.0" cy="204.7" r="1.7"/><circle cx="175.7" cy="215.2" r="1.7"/><circle cx="177.1" cy="221.6" r="1.7"/><circle cx="198.3" cy="209.9" r="1.7"/><circle cx="196.6" cy="224.7" r="1.7"/><circle cx="166.6" cy="230.9" r="1.7"/><circle cx="184.5" cy="218.9" r="1.7"/><circle cx="180.2" cy="221.2" r="1.7"/><circle cx="198.3" cy="207.6" r="1.7"/><circle cx="130.8" cy="212.1" r="1.7"/><circle cx="159.4" cy="204.0" r="1.7"/><circle cx="147.7" cy="222.9" r="1.7"/><circle cx="189.5" cy="205.9" r="1.7"/><circle cx="183.3" cy="203.7" r="1.7"/><circle cx="189.9" cy="195.8" r="1.7"/><circle cx="176.4" cy="227.2" r="1.7"/><circle cx="151.2" cy="225.9" r="1.7"/><circle cx="137.3" cy="206.6" r="1.7"/><circle cx="139.4" cy="233.4" r="1.7"/><circle cx="150.6" cy="229.5" r="1.7"/><circle cx="165.8" cy="223.2" r="1.7"/><circle cx="139.7" cy="225.1" r="1.7"/><circle cx="168.8" cy="221.0" r="1.7"/><circle cx="177.2" cy="219.1" r="1.7"/><circle cx="130.3" cy="216.3" r="1.7"/><circle cx="153.2" cy="225.0" r="1.7"/><circle cx="161.7" cy="227.1" r="1.7"/><circle cx="188.8" cy="205.5" r="1.7"/><circle cx="161.5" cy="208.5" r="1.7"/><circle cx="197.3" cy="208.2" r="1.7"/><circle cx="181.2" cy="193.4" r="1.7"/><circle cx="191.0" cy="223.0" r="1.7"/><circle cx="171.3" cy="200.7" r="1.7"/><circle cx="208.9" cy="200.9" r="1.7"/><circle cx="144.1" cy="215.1" r="1.7"/><circle cx="158.2" cy="206.3" r="1.7"/><circle cx="141.5" cy="222.3" r="1.7"/><circle cx="194.0" cy="187.9" r="1.7"/><circle cx="151.3" cy="229.9" r="1.7"/><circle cx="258.9" cy="213.2" r="1.7"/><circle cx="224.1" cy="198.8" r="1.7"/><circle cx="278.8" cy="199.6" r="1.7"/><circle cx="212.2" cy="210.3" r="1.7"/><circle cx="226.4" cy="192.4" r="1.7"/><circle cx="280.4" cy="218.4" r="1.7"/><circle cx="230.4" cy="196.3" r="1.7"/><circle cx="225.4" cy="200.8" r="1.7"/><circle cx="246.5" cy="216.2" r="1.7"/><circle cx="213.5" cy="203.3" r="1.7"/><circle cx="232.9" cy="200.6" r="1.7"/><circle cx="228.5" cy="194.6" r="1.7"/><circle cx="268.2" cy="218.3" r="1.7"/><circle cx="222.4" cy="208.8" r="1.7"/><circle cx="272.2" cy="205.4" r="1.7"/><circle cx="255.9" cy="196.0" r="1.7"/><circle cx="226.9" cy="198.9" r="1.7"/><circle cx="230.3" cy="218.0" r="1.7"/><circle cx="221.2" cy="207.3" r="1.7"/><circle cx="251.1" cy="199.5" r="1.7"/><circle cx="263.5" cy="209.9" r="1.7"/><circle cx="279.0" cy="209.1" r="1.7"/><circle cx="266.9" cy="221.4" r="1.7"/><circle cx="223.7" cy="190.1" r="1.7"/><circle cx="277.3" cy="199.9" r="1.7"/><circle cx="250.3" cy="214.3" r="1.7"/><circle cx="222.0" cy="214.5" r="1.7"/><circle cx="263.2" cy="215.8" r="1.7"/><circle cx="226.0" cy="215.6" r="1.7"/><circle cx="238.1" cy="204.3" r="1.7"/><circle cx="259.0" cy="199.7" r="1.7"/><circle cx="245.8" cy="206.9" r="1.7"/><circle cx="210.7" cy="193.6" r="1.7"/><circle cx="242.1" cy="197.0" r="1.7"/><circle cx="288.9" cy="218.5" r="1.7"/><circle cx="228.2" cy="210.0" r="1.7"/><circle cx="285.8" cy="222.6" r="1.7"/><circle cx="210.6" cy="193.2" r="1.7"/><circle cx="271.5" cy="200.2" r="1.7"/><circle cx="215.4" cy="193.6" r="1.7"/><circle cx="276.7" cy="211.0" r="1.7"/><circle cx="250.0" cy="203.0" r="1.7"/><circle cx="214.3" cy="197.4" r="1.7"/><circle cx="279.1" cy="217.1" r="1.7"/><circle cx="278.9" cy="207.2" r="1.7"/><circle cx="232.5" cy="214.7" r="1.7"/><circle cx="221.3" cy="194.7" r="1.7"/><circle cx="247.5" cy="200.9" r="1.7"/><circle cx="252.7" cy="198.9" r="1.7"/><circle cx="220.3" cy="207.6" r="1.7"/><circle cx="237.3" cy="218.6" r="1.7"/><circle cx="244.0" cy="194.8" r="1.7"/><circle cx="340.1" cy="233.3" r="1.7"/><circle cx="302.9" cy="217.3" r="1.7"/><circle cx="319.6" cy="228.6" r="1.7"/><circle cx="291.4" cy="224.0" r="1.7"/><circle cx="294.0" cy="219.8" r="1.7"/><circle cx="313.4" cy="230.2" r="1.7"/><circle cx="309.0" cy="225.2" r="1.7"/></g><g style="fill:#1f77b4;stroke:#1f77b4;fill-opacity:0.65;stroke-opacity:0.65"><circle cx="171.0" cy="253.0" r="1.7"/><circle cx="169.3" cy="244.0" r="1.7"/><circle cx="182.4" cy="237.7" r="1.7"/><circle cx="156.2" cy="191.3" r="1.7"/><circle cx="169.3" cy="190.9" r="1.7"/><circle cx="177.3" cy="186.5" r="1.7"/><circle cx="189.6" cy="193.1" r="1.7"/><circle cx="195.5" cy="185.1" r="1.7"/><circle cx="163.5" cy="194.5" r="1.7"/><circle cx="172.2" cy="195.3" r="1.7"/><circle cx="196.9" cy="194.5" r="1.7"/><circle cx="226.0" cy="186.5" r="1.7"/><circle cx="239.1" cy="189.5" r="1.7"/><circle cx="251.7" cy="166.9" r="1.7"/><circle cx="240.5" cy="159.2" r="1.7"/><circle cx="196.9" cy="163.0" r="1.7"/><circle cx="241.3" cy="168.8" r="1.7"/><circle cx="245.6" cy="173.5" r="1.7"/><circle cx="249.3" cy="174.2" r="1.7"/><circle cx="179.5" cy="177.1" r="1.7"/><circle cx="209.3" cy="180.0" r="1.7"/><circle cx="192.9" cy="228.1" r="1.7"/><circle cx="204.5" cy="234.6" r="1.7"/><circle cx="92.8" cy="264.4" r="1.7"/><circle cx="102.1" cy="257.9" r="1.7"/><circle cx="103.2" cy="258.6" r="1.7"/><circle cx="113.3" cy="252.1" r="1.7"/><circle cx="83.9" cy="259.8" r="1.7"/><circle cx="108.7" cy="253.7" r="1.7"/><circle cx="76.0" cy="279.3" r="1.7"/><circle cx="101.0" cy="257.7" r="1.7"/><circle cx="92.7" cy="265.6" r="1.7"/><circle cx="117.0" cy="256.0" r="1.7"/><circle cx="121.7" cy="257.1" r="1.7"/><circle cx="79.9" cy="270.5" r="1.7"/><circle cx="84.3" cy="280.1" r="1.7"/><circle cx="94.3" cy="254.2" r="1.7"/><circle cx="78.7" cy="272.4" r="1.7"/><circle cx="102.0" cy="256.4" r="1.7"/><circle cx="83.5" cy="276.8" r="1.7"/><circle cx="93.3" cy="262.0" r="1.7"/><circle cx="92.2" cy="257.5" r="1.7"/><circle cx="129.0" cy="252.1" r="1.7"/><circle cx="129.2" cy="257.2" r="1.7"/><circle cx="133.7" cy="243.3" r="1.7"/><circle cx="141.2" cy="258.2" r="1.7"/><circle cx="130.7" cy="239.1" r="1.7"/><circle cx="136.2" cy="254.4" r="1.7"/><circle cx="152.5" cy="243.3" r="1.7"/><circle cx="139.0" cy="252.9" r="1.7"/><circle cx="130.9" cy="244.9" r="1.7"/><circle cx="134.2" cy="250.4" r="1.7"/><circle cx="145.1" cy="253.9" r="1.7"/><circle cx="156.7" cy="250.7" r="1.7"/><circle cx="139.3" cy="242.4" r="1.7"/><circle cx="146.7" cy="246.6" r="1.7"/><circle cx="134.9" cy="252.1" r="1.7"/><circle cx="136.9" cy="258.9" r="1.7"/><circle cx="137.2" cy="244.3" r="1.7"/><circle cx="135.9" cy="247.3" r="1.7"/><circle cx="100.8" cy="241.8" r="1.7"/><circle cx="97.4" cy="236.8" r="1.7"/><circle cx="111.5" cy="234.7" r="1.7"/><circle cx="123.3" cy="243.9" r="1.7"/><circle cx="129.3" cy="237.6" r="1.7"/><circle cx="93.9" cy="248.5" r="1.7"/><circle cx="128.9" cy="219.8" r="1.7"/><circle cx="105.1" cy="239.6" r="1.7"/><circle cx="128.4" cy="233.0" r="1.7"/><circle cx="125.6" cy="239.9" r="1.7"/><circle cx="97.1" cy="249.7" r="1.7"/><circle cx="116.8" cy="223.3" r="1.7"/><circle cx="109.9" cy="247.8" r="1.7"/><circle cx="122.1" cy="234.3" r="1.7"/><circle cx="119.1" cy="222.6" r="1.7"/><circle cx="123.5" cy="232.1" r="1.7"/><circle cx="125.0" cy="218.5" r="1.7"/><circle cx="96.1" cy="250.6" r="1.7"/><circle cx="101.3" cy="246.0" r="1.7"/><circle cx="95.9" cy="251.1" r="1.7"/><circle cx="114.5" cy="235.9" r="1.7"/><circle cx="128.4" cy="218.9" r="1.7"/><circle cx="129.2" cy="240.2" r="1.7"/><circle cx="109.2" cy="251.2" r="1.7"/><circle cx="126.9" cy="244.3" r="1.7"/><circle cx="118.4" cy="220.1" r="1.7"/><circle cx="126.2" cy="223.5" r="1.7"/><circle cx="208.2" cy="202.2" r="1.7"/><circle cx="202.8" cy="200.7" r="1.7"/><circle cx="156.2" cy="212.0" r="1.7"/><circle cx="209.7" cy="199.8" r="1.7"/><circle cx="131.4" cy="221.2" r="1.7"/><circle cx="169.5" cy="224.0" r="1.7"/><circle cx="167.9" cy="214.9" r="1.7"/><circle cx="130.6" cy="218.0" r="1.7"/><circle cx="195.5" cy="205.8" r="1.7"/><circle cx="150.7" cy="232.8" r="1.7"/><circle cx="194.3" cy="209.8" r="1.7"/><circle cx="204.5" cy="220.6" r="1.7"/><circle cx="200.5" cy="197.2" r="1.7"/><circle cx="162.7" cy="219.9" r="1.7"/><circle cx="149.8" cy="214.8" r="1.7"/><circle cx="177.0" cy="228.3" r="1.7"/><circle cx="159.6" cy="219.3" r="1.7"/><circle cx="177.4" cy="222.6" r="1.7"/><circle cx="141.1" cy="222.4" r="1.7"/><circle cx="168.0" cy="199.5" r="1.7"/><circle cx="182.8" cy="206.9" r="1.7"/><circle cx="203.5" cy="204.0" r="1.7"/><circle cx="149.8" cy="226.7" r="1.7"/><circle cx="137.5" cy="213.6" r="1.7"/><circle cx="174.0" cy="207.2" r="1.7"/><circle cx="203.7" cy="202.7" r="1.7"/><circle cx="148.0" cy="228.5" r="1.7"/><circle cx="209.9" cy="219.9" r="1.7"/><circle cx="141.5" cy="210.3" r="1.7"/><circle cx="190.5" cy="222.6" r="1.7"/><circle cx="132.6" cy="219.2" r="1.7"/><circle cx="158.9" cy="227.9" r="1.7"/><circle cx="181.9" cy="199.7" r="1.7"/><circle cx="173.5" cy="228.0" r="1.7"/><circle cx="187.8" cy="196.8" r="1.7"/><circle cx="195.7" cy="190.4" r="1.7"/><circle cx="188.1" cy="212.5" r="1.7"/><circle cx="146.7" cy="220.3" r="1.7"/><circle cx="189.6" cy="201.8" r="1.7"/><circle cx="156.5" cy="226.9" r="1.7"/><circle cx="173.2" cy="226.3" r="1.7"/><circle cx="181.8" cy="198.0" r="1.7"/><circle cx="187.9" cy="200.1" r="1.7"/><circle cx="197.6" cy="190.2" r="1.7"/><circle cx="204.1" cy="213.2" r="1.7"/><circle cx="146.9" cy="221.8" r="1.7"/><circle cx="209.4" cy="210.3" r="1.7"/><circle cx="165.6" cy="227.8" r="1.7"/><circle cx="136.1" cy="227.3" r="1.7"/><circle cx="135.0" cy="223.2" r="1.7"/><circle cx="150.1" cy="212.3" r="1.7"/><circle cx="158.6" cy="212.3" r="1.7"/><circle cx="160.8" cy="211.8" r="1.7"/><circle cx="204.6" cy="219.7" r="1.7"/><circle cx="133.4" cy="225.2" r="1.7"/><circle cx="184.6" cy="226.7" r="1.7"/><circle cx="148.6" cy="211.3" r="1.7"/><circle cx="167.7" cy="231.4" r="1.7"/><circle cx="171.8" cy="200.7" r="1.7"/><circle cx="141.4" cy="218.5" r="1.7"/><circle cx="138.1" cy="222.9" r="1.7"/><circle cx="203.4" cy="222.0" r="1.7"/><circle cx="152.1" cy="209.4" r="1.7"/><circle cx="177.1" cy="228.7" r="1.7"/><circle cx="194.6" cy="190.3" r="1.7"/><circle cx="134.6" cy="217.2" r="1.7"/><circle cx="152.1" cy="233.9" r="1.7"/><circle cx="162.8" cy="212.6" r="1.7"/><circle cx="178.8" cy="219.3" r="1.7"/><circle cx="177.9" cy="206.4" r="1.7"/><circle cx="167.1" cy="228.9" r="1.7"/><circle cx="213.7" cy="196.7" r="1.7"/><circle cx="236.3" cy="202.6" r="1.7"/><circle cx="223.3" cy="207.7" r="1.7"/><circle cx="253.1" cy="202.9" r="1.7"/><circle cx="235.2" cy="196.1" r="1.7"/><circle cx="230.0" cy="206.4" r="1.7"/><circle cx="234.9" cy="212.8" r="1.7"/><circle cx="227.1" cy="213.5" r="1.7"/><circle cx="215.6" cy="190.9" r="1.7"/><circle cx="280.4" cy="214.4" r="1.7"/><circle cx="263.8" cy="208.5" r="1.7"/><circle cx="254.9" cy="212.2" r="1.7"/><circle cx="220.3" cy="192.3" r="1.7"/><circle cx="242.8" cy="203.5" r="1.7"/><circle cx="252.0" cy="212.6" r="1.7"/><circle cx="229.6" cy="199.3" r="1.7"/><circle cx="212.7" cy="202.0" r="1.7"/><circle cx="279.4" cy="212.0" r="1.7"/><circle cx="273.9" cy="205.1" r="1.7"/><circle cx="268.8" cy="196.9" r="1.7"/><circle cx="263.0" cy="202.2" r="1.7"/><circle cx="239.5" cy="205.6" r="1.7"/><circle cx="222.5" cy="190.3" r="1.7"/><circle cx="230.5" cy="203.0" r="1.7"/><circle cx="218.1" cy="193.6" r="1.7"/><circle cx="214.3" cy="189.3" r="1.7"/><circle cx="275.8" cy="206.3" r="1.7"/><circle cx="224.6" cy="200.8" r="1.7"/><circle cx="210.8" cy="193.9" r="1.7"/><circle cx="234.4" cy="199.7" r="1.7"/><circle cx="221.4" cy="189.4" r="1.7"/><circle cx="218.1" cy="203.9" r="1.7"/><circle cx="231.2" cy="198.5" r="1.7"/><circle cx="238.9" cy="216.4" r="1.7"/><circle cx="267.8" cy="219.6" r="1.7"/><circle cx="234.3" cy="202.9" r="1.7"/><circle cx="287.8" cy="221.6" r="1.7"/><circle cx="249.3" cy="202.0" r="1.7"/><circle cx="261.0" cy="199.2" r="1.7"/><circle cx="252.0" cy="202.2" r="1.7"/></g><g style="fill:#1f77b4;stroke:#1f77b4;fill-opacity:0.7;stroke-opacity:0.7"><circle cx="157.6" cy="240.4" r="1.7"/><circle cx="161.3" cy="236.0" r="1.7"/><circle cx="130.7" cy="258.5" r="1.7"/><circle cx="175.1" cy="182.9" r="1.7"/><circle cx="194.0" cy="186.5" r="1.7"/><circle cx="207.1" cy="182.2" r="1.7"/><circle cx="148.2" cy="198.6" r="1.7"/><circle cx="151.8" cy="200.4" r="1.7"/><circle cx="219.5" cy="185.8" r="1.7"/><circle cx="230.4" cy="185.8" r="1.7"/><circle cx="234.7" cy="225.4" r="1.7"/><circle cx="216.5" cy="163.3" r="1.7"/><circle cx="199.8" cy="168.7" r="1.7"/><circle cx="212.2" cy="173.9" r="1.7"/><circle cx="234.7" cy="171.3" r="1.7"/><circle cx="137.5" cy="203.5" r="1.7"/><circle cx="139.6" cy="204.5" r="1.7"/><circle cx="170.2" cy="195.1" r="1.7"/><circle cx="186.9" cy="189.3" r="1.7"/><circle cx="205.3" cy="226.6" r="1.7"/><circle cx="124.4" cy="252.8" r="1.7"/><circle cx="78.3" cy="266.0" r="1.7"/><circle cx="83.8" cy="262.6" r="1.7"/><circle cx="83.7" cy="273.1" r="1.7"/><circle cx="73.2" cy="285.6" r="1.7"/><circle cx="71.9" cy="271.3" r="1.7"/><circle cx="76.2" cy="269.4" r="1.7"/><circle cx="98.3" cy="252.1" r="1.7"/><circle cx="117.1" cy="254.6" r="1.7"/><circle cx="82.9" cy="269.4" r="1.7"/><circle cx="78.7" cy="278.0" r="1.7"/><circle cx="100.0" cy="256.8" r="1.7"/><circle cx="122.5" cy="253.3" r="1.7"/><circle cx="105.5" cy="260.5" r="1.7"/><circle cx="85.2" cy="256.9" r="1.7"/><circle cx="78.0" cy="273.4" r="1.7"/><circle cx="76.1" cy="274.6" r="1.7"/><circle cx="117.5" cy="252.9" r="1.7"/><circle cx="90.0" cy="266.8" r="1.7"/><circle cx="145.1" cy="256.6" r="1.7"/><circle cx="145.1" cy="248.4" r="1.7"/><circle cx="145.3" cy="252.1" r="1.7"/><circle cx="146.0" cy="241.7" r="1.7"/><circle cx="132.5" cy="247.8" r="1.7"/><circle cx="137.3" cy="249.3" r="1.7"/><circle cx="148.4" cy="258.2" r="1.7"/><circle cx="153.8" cy="242.5" r="1.7"/><circle cx="123.0" cy="248.5" r="1.7"/><circle cx="123.0" cy="249.3" r="1.7"/><circle cx="102.8" cy="237.1" r="1.7"/><circle cx="104.9" cy="250.3" r="1.7"/><circle cx="120.9" cy="216.2" r="1.7"/><circle cx="126.5" cy="250.0" r="1.7"/><circle cx="121.8" cy="222.8" r="1.7"/><circle cx="121.5" cy="221.1" r="1.7"/><circle cx="97.3" cy="237.9" r="1.7"/><circle cx="125.2" cy="214.9" r="1.7"/><circle cx="102.9" cy="245.4" r="1.7"/><circle cx="106.2" cy="242.5" r="1.7"/><circle cx="119.6" cy="224.4" r="1.7"/><circle cx="98.9" cy="232.1" r="1.7"/><circle cx="97.6" cy="232.7" r="1.7"/><circle cx="124.5" cy="239.7" r="1.7"/><circle cx="96.0" cy="238.3" r="1.7"/><circle cx="127.3" cy="211.3" r="1.7"/><circle cx="124.3" cy="214.0" r="1.7"/><circle cx="99.6" cy="246.8" r="1.7"/><circle cx="128.2" cy="237.4" r="1.7"/><circle cx="119.6" cy="251.4" r="1.7"/><circle cx="122.2" cy="215.6" r="1.7"/><circle cx="126.2" cy="212.1" r="1.7"/><circle cx="108.2" cy="233.1" r="1.7"/><circle cx="151.1" cy="207.0" r="1.7"/><circle cx="170.2" cy="208.0" r="1.7"/><circle cx="174.3" cy="206.9" r="1.7"/><circle cx="166.2" cy="217.2" r="1.7"/><circle cx="132.2" cy="223.3" r="1.7"/><circle cx="166.4" cy="204.2" r="1.7"/><circle cx="182.5" cy="199.7" r="1.7"/><circle cx="198.4" cy="202.6" r="1.7"/><circle cx="157.6" cy="217.0" r="1.7"/><circle cx="194.6" cy="224.2" r="1.7"/><circle cx="130.0" cy="208.5" r="1.7"/><circle cx="179.7" cy="219.7" r="1.7"/><circle cx="140.7" cy="213.6" r="1.7"/><circle cx="151.8" cy="233.7" r="1.7"/><circle cx="205.7" cy="199.1" r="1.7"/><circle cx="140.4" cy="217.9" r="1.7"/><circle cx="159.8" cy="221.5" r="1.7"/><circle cx="165.3" cy="220.2" r="1.7"/><circle cx="177.0" cy="199.7" r="1.7"/><circle cx="181.4" cy="206.9" r="1.7"/><circle cx="155.1" cy="212.4" r="1.7"/><circle cx="203.7" cy="189.2" r="1.7"/><circle cx="198.0" cy="193.6" r="1.7"/><circle cx="191.1" cy="188.7" r="1.7"/><circle cx="190.3" cy="193.5" r="1.7"/><circle cx="131.5" cy="235.2" r="1.7"/><circle cx="161.3" cy="218.5" r="1.7"/><circle cx="148.7" cy="219.6" r="1.7"/><circle cx="171.2" cy="199.3" r="1.7"/><circle cx="151.6" cy="212.0" r="1.7"/><circle cx="208.0" cy="207.1" r="1.7"/><circle cx="195.4" cy="203.5" r="1.7"/><circle cx="208.8" cy="216.6" r="1.7"/><circle cx="192.4" cy="208.8" r="1.7"/><circle cx="203.9" cy="222.1" r="1.7"/><circle cx="153.2" cy="216.0" r="1.7"/><circle cx="131.9" cy="230.9" r="1.7"/><circle cx="187.2" cy="193.2" r="1.7"/><circle cx="140.0" cy="223.8" r="1.7"/><circle cx="173.0" cy="227.4" r="1.7"/><circle cx="196.2" cy="220.8" r="1.7"/><circle cx="203.1" cy="190.4" r="1.7"/><circle cx="169.3" cy="211.1" r="1.7"/><circle cx="155.5" cy="229.8" r="1.7"/><circle cx="205.4" cy="199.0" r="1.7"/><circle cx="196.8" cy="223.2" r="1.7"/><circle cx="141.1" cy="212.5" r="1.7"/><circle cx="151.8" cy="212.7" r="1.7"/><circle cx="194.3" cy="221.8" r="1.7"/><circle cx="175.8" cy="199.7" r="1.7"/><circle cx="188.9" cy="210.3" r="1.7"/><circle cx="136.7" cy="213.4" r="1.7"/><circle cx="197.9" cy="213.3" r="1.7"/><circle cx="185.7" cy="225.4" r="1.7"/><circle cx="137.6" cy="213.5" r="1.7"/><circle cx="171.9" cy="223.4" r="1.7"/><circle cx="197.0" cy="204.8" r="1.7"/><circle cx="180.3" cy="210.3" r="1.7"/><circle cx="209.7" cy="209.8" r="1.7"/><circle cx="145.3" cy="227.4" r="1.7"/><circle cx="156.5" cy="206.1" r="1.7"/><circle cx="205.9" cy="190.7" r="1.7"/><circle cx="182.1" cy="205.7" r="1.7"/><circle cx="136.7" cy="229.3" r="1.7"/><circle cx="138.4" cy="221.3" r="1.7"/><circle cx="158.6" cy="217.9" r="1.7"/><circle cx="219.1" cy="197.5" r="1.7"/><circle cx="212.0" cy="194.5" r="1.7"/><circle cx="231.8" cy="213.9" r="1.7"/><circle cx="228.4" cy="202.2" r="1.7"/><circle cx="218.9" cy="214.1" r="1.7"/><circle cx="227.1" cy="203.5" r="1.7"/><circle cx="224.8" cy="188.6" r="1.7"/><circle cx="224.4" cy="213.7" r="1.7"/><circle cx="222.0" cy="217.1" r="1.7"/><circle cx="213.7" cy="200.7" r="1.7"/><circle cx="210.1" cy="209.8" r="1.7"/><circle cx="235.7" cy="218.0" r="1.7"/><circle cx="214.2" cy="192.9" r="1.7"/><circle cx="220.1" cy="203.3" r="1.7"/><circle cx="210.8" cy="197.7" r="1.7"/></g><g style="fill:#1f77b4;stroke:#1f77b4;fill-opacity:0.75;stroke-opacity:0.75"><circle cx="97.3" cy="281.1" r="1.7"/><circle cx="108.9" cy="266.5" r="1.7"/><circle cx="79.1" cy="253.5" r="1.7"/><circle cx="81.3" cy="277.5" r="1.7"/><circle cx="157.6" cy="254.2" r="1.7"/><circle cx="165.6" cy="242.1" r="1.7"/><circle cx="181.6" cy="242.1" r="1.7"/><circle cx="189.6" cy="236.0" r="1.7"/><circle cx="138.7" cy="257.8" r="1.7"/><circle cx="91.5" cy="239.6" r="1.7"/><circle cx="136.5" cy="194.5" r="1.7"/><circle cx="172.2" cy="192.4" r="1.7"/><circle cx="184.5" cy="188.0" r="1.7"/><circle cx="188.9" cy="188.7" r="1.7"/><circle cx="201.3" cy="180.7" r="1.7"/><circle cx="143.8" cy="202.5" r="1.7"/><circle cx="143.3" cy="186.4" r="1.7"/><circle cx="93.3" cy="263.5" r="1.7"/><circle cx="127.5" cy="255.0" r="1.7"/><circle cx="107.3" cy="261.1" r="1.7"/><circle cx="114.5" cy="257.1" r="1.7"/><circle cx="86.3" cy="257.8" r="1.7"/><circle cx="78.9" cy="268.7" r="1.7"/><circle cx="73.9" cy="266.3" r="1.7"/><circle cx="105.4" cy="252.6" r="1.7"/><circle cx="108.3" cy="259.4" r="1.7"/><circle cx="85.2" cy="274.5" r="1.7"/><circle cx="104.6" cy="252.1" r="1.7"/><circle cx="122.2" cy="254.7" r="1.7"/><circle cx="84.4" cy="274.6" r="1.7"/><circle cx="79.1" cy="269.3" r="1.7"/><circle cx="72.6" cy="274.7" r="1.7"/><circle cx="146.7" cy="246.1" r="1.7"/><circle cx="133.5" cy="253.9" r="1.7"/><circle cx="140.6" cy="252.1" r="1.7"/><circle cx="153.2" cy="246.0" r="1.7"/><circle cx="138.9" cy="254.4" r="1.7"/><circle cx="143.9" cy="251.9" r="1.7"/><circle cx="140.2" cy="237.3" r="1.7"/><circle cx="144.2" cy="248.5" r="1.7"/><circle cx="143.0" cy="256.9" r="1.7"/><circle cx="156.1" cy="249.1" r="1.7"/><circle cx="151.4" cy="239.2" r="1.7"/><circle cx="154.9" cy="246.5" r="1.7"/><circle cx="131.5" cy="257.9" r="1.7"/><circle cx="151.6" cy="238.0" r="1.7"/><circle cx="123.5" cy="248.2" r="1.7"/><circle cx="95.1" cy="247.4" r="1.7"/><circle cx="129.3" cy="241.1" r="1.7"/><circle cx="125.5" cy="249.8" r="1.7"/><circle cx="126.2" cy="246.8" r="1.7"/><circle cx="126.8" cy="231.2" r="1.7"/><circle cx="105.8" cy="247.3" r="1.7"/><circle cx="105.4" cy="232.2" r="1.7"/><circle cx="125.6" cy="221.7" r="1.7"/><circle cx="123.2" cy="213.1" r="1.7"/><circle cx="105.5" cy="234.5" r="1.7"/><circle cx="120.8" cy="240.8" r="1.7"/><circle cx="101.4" cy="238.6" r="1.7"/><circle cx="109.1" cy="244.3" r="1.7"/><circle cx="119.5" cy="217.9" r="1.7"/><circle cx="101.6" cy="239.4" r="1.7"/><circle cx="106.3" cy="233.4" r="1.7"/><circle cx="113.4" cy="229.0" r="1.7"/><circle cx="105.3" cy="245.0" r="1.7"/><circle cx="122.8" cy="211.2" r="1.7"/><circle cx="128.9" cy="210.4" r="1.7"/><circle cx="98.2" cy="235.2" r="1.7"/><circle cx="118.8" cy="251.1" r="1.7"/><circle cx="120.3" cy="234.6" r="1.7"/><circle cx="119.0" cy="223.9" r="1.7"/><circle cx="111.1" cy="227.6" r="1.7"/><circle cx="127.0" cy="250.0" r="1.7"/><circle cx="124.0" cy="232.0" r="1.7"/><circle cx="127.8" cy="211.0" r="1.7"/><circle cx="122.7" cy="244.7" r="1.7"/><circle cx="118.6" cy="216.4" r="1.7"/><circle cx="135.6" cy="232.0" r="1.7"/><circle cx="199.1" cy="224.8" r="1.7"/><circle cx="199.0" cy="219.5" r="1.7"/><circle cx="195.1" cy="223.6" r="1.7"/><circle cx="189.4" cy="204.1" r="1.7"/><circle cx="186.9" cy="224.8" r="1.7"/><circle cx="184.3" cy="215.4" r="1.7"/><circle cx="201.1" cy="221.4" r="1.7"/><circle cx="158.6" cy="216.7" r="1.7"/><circle cx="134.7" cy="212.8" r="1.7"/><circle cx="144.9" cy="218.1" r="1.7"/><circle cx="195.9" cy="224.7" r="1.7"/><circle cx="200.6" cy="214.9" r="1.7"/><circle cx="145.2" cy="226.5" r="1.7"/><circle cx="205.9" cy="218.2" r="1.7"/><circle cx="161.5" cy="220.6" r="1.7"/><circle cx="208.5" cy="187.9" r="1.7"/><circle cx="178.0" cy="202.1" r="1.7"/><circle cx="206.0" cy="221.3" r="1.7"/><circle cx="186.1" cy="222.9" r="1.7"/><circle cx="199.4" cy="208.9" r="1.7"/><circle cx="189.0" cy="219.7" r="1.7"/><circle cx="199.4" cy="189.6" r="1.7"/><circle cx="148.3" cy="224.3" r="1.7"/><circle cx="178.2" cy="212.5" r="1.7"/><circle cx="182.1" cy="225.4" r="1.7"/><circle cx="149.5" cy="227.8" r="1.7"/><circle cx="134.3" cy="235.5" r="1.7"/><circle cx="195.5" cy="222.8" r="1.7"/><circle cx="202.4" cy="208.1" r="1.7"/><circle cx="182.6" cy="206.8" r="1.7"/><circle cx="177.8" cy="222.4" r="1.7"/><circle cx="202.6" cy="195.3" r="1.7"/><circle cx="201.8" cy="205.2" r="1.7"/><circle cx="203.3" cy="208.1" r="1.7"/><circle cx="178.8" cy="224.8" r="1.7"/><circle cx="184.9" cy="214.6" r="1.7"/><circle cx="177.8" cy="203.9" r="1.7"/><circle cx="196.8" cy="212.2" r="1.7"/><circle cx="181.1" cy="194.4" r="1.7"/><circle cx="194.9" cy="202.2" r="1.7"/><circle cx="160.8" cy="210.2" r="1.7"/><circle cx="170.6" cy="226.7" r="1.7"/><circle cx="188.8" cy="216.2" r="1.7"/><circle cx="195.2" cy="206.4" r="1.7"/><circle cx="154.4" cy="222.4" r="1.7"/><circle cx="153.9" cy="221.0" r="1.7"/><circle cx="180.0" cy="209.4" r="1.7"/><circle cx="187.8" cy="203.9" r="1.7"/><circle cx="142.6" cy="235.1" r="1.7"/><circle cx="210.6" cy="197.6" r="1.7"/><circle cx="213.0" cy="189.7" r="1.7"/><circle cx="210.5" cy="206.2" r="1.7"/><circle cx="212.5" cy="195.0" r="1.7"/><circle cx="213.0" cy="197.3" r="1.7"/></g><g style="fill:#1f77b4;stroke:#1f77b4;fill-opacity:0.8;stroke-opacity:0.8"><circle cx="76.2" cy="288.7" r="1.7"/><circle cx="95.8" cy="291.6" r="1.7"/><circle cx="106.7" cy="265.8" r="1.7"/><circle cx="70.4" cy="286.2" r="1.7"/><circle cx="161.3" cy="257.5" r="1.7"/><circle cx="160.5" cy="241.1" r="1.7"/><circle cx="106.0" cy="222.5" r="1.7"/><circle cx="100.9" cy="226.5" r="1.7"/><circle cx="122.7" cy="200.4" r="1.7"/><circle cx="174.4" cy="187.3" r="1.7"/><circle cx="167.8" cy="196.0" r="1.7"/><circle cx="179.5" cy="194.5" r="1.7"/><circle cx="176.5" cy="177.5" r="1.7"/><circle cx="135.3" cy="204.5" r="1.7"/><circle cx="190.0" cy="231.7" r="1.7"/><circle cx="98.2" cy="252.9" r="1.7"/><circle cx="112.8" cy="254.7" r="1.7"/><circle cx="93.4" cy="261.4" r="1.7"/><circle cx="69.6" cy="280.3" r="1.7"/><circle cx="103.3" cy="261.8" r="1.7"/><circle cx="81.1" cy="266.5" r="1.7"/><circle cx="129.6" cy="252.4" r="1.7"/><circle cx="88.7" cy="256.3" r="1.7"/><circle cx="97.6" cy="261.5" r="1.7"/><circle cx="123.5" cy="259.6" r="1.7"/><circle cx="78.4" cy="269.2" r="1.7"/><circle cx="94.6" cy="261.2" r="1.7"/><circle cx="117.1" cy="253.6" r="1.7"/><circle cx="75.8" cy="275.3" r="1.7"/><circle cx="88.7" cy="253.9" r="1.7"/><circle cx="83.3" cy="277.6" r="1.7"/><circle cx="95.0" cy="259.0" r="1.7"/><circle cx="76.3" cy="266.5" r="1.7"/><circle cx="86.2" cy="272.7" r="1.7"/><circle cx="122.8" cy="255.7" r="1.7"/><circle cx="78.4" cy="267.9" r="1.7"/><circle cx="150.9" cy="245.3" r="1.7"/><circle cx="138.7" cy="256.7" r="1.7"/><circle cx="147.1" cy="245.7" r="1.7"/><circle cx="154.6" cy="239.8" r="1.7"/><circle cx="145.5" cy="243.7" r="1.7"/><circle cx="157.7" cy="249.9" r="1.7"/><circle cx="138.7" cy="237.8" r="1.7"/><circle cx="117.0" cy="233.8" r="1.7"/><circle cx="126.2" cy="217.6" r="1.7"/><circle cx="112.7" cy="248.3" r="1.7"/><circle cx="111.7" cy="225.8" r="1.7"/><circle cx="116.2" cy="225.2" r="1.7"/><circle cx="122.4" cy="239.5" r="1.7"/><circle cx="100.8" cy="245.7" r="1.7"/><circle cx="129.8" cy="213.1" r="1.7"/><circle cx="111.9" cy="248.4" r="1.7"/><circle cx="121.8" cy="245.2" r="1.7"/><circle cx="107.8" cy="245.1" r="1.7"/><circle cx="129.1" cy="224.3" r="1.7"/><circle cx="121.3" cy="224.8" r="1.7"/><circle cx="119.8" cy="241.9" r="1.7"/><circle cx="101.8" cy="233.4" r="1.7"/><circle cx="122.6" cy="217.8" r="1.7"/><circle cx="111.6" cy="240.6" r="1.7"/><circle cx="113.7" cy="249.1" r="1.7"/><circle cx="117.0" cy="234.9" r="1.7"/><circle cx="126.0" cy="244.3" r="1.7"/><circle cx="137.0" cy="211.8" r="1.7"/><circle cx="200.4" cy="188.3" r="1.7"/><circle cx="171.7" cy="203.5" r="1.7"/><circle cx="151.4" cy="233.9" r="1.7"/><circle cx="183.5" cy="195.3" r="1.7"/><circle cx="193.7" cy="195.3" r="1.7"/><circle cx="184.2" cy="204.9" r="1.7"/><circle cx="187.9" cy="216.7" r="1.7"/><circle cx="178.9" cy="213.5" r="1.7"/><circle cx="166.9" cy="211.6" r="1.7"/><circle cx="178.8" cy="220.0" r="1.7"/><circle cx="190.2" cy="223.5" r="1.7"/><circle cx="182.9" cy="222.1" r="1.7"/><circle cx="166.9" cy="202.0" r="1.7"/><circle cx="137.4" cy="220.5" r="1.7"/><circle cx="165.8" cy="221.5" r="1.7"/><circle cx="168.7" cy="225.6" r="1.7"/><circle cx="192.0" cy="201.7" r="1.7"/><circle cx="156.2" cy="222.4" r="1.7"/><circle cx="139.4" cy="209.3" r="1.7"/><circle cx="176.7" cy="207.8" r="1.7"/><circle cx="157.7" cy="209.3" r="1.7"/><circle cx="132.0" cy="218.7" r="1.7"/><circle cx="165.7" cy="203.3" r="1.7"/><circle cx="185.7" cy="222.8" r="1.7"/><circle cx="185.2" cy="203.4" r="1.7"/><circle cx="148.4" cy="229.1" r="1.7"/><circle cx="145.0" cy="220.5" r="1.7"/><circle cx="155.2" cy="215.8" r="1.7"/><circle cx="159.8" cy="221.1" r="1.7"/><circle cx="156.7" cy="205.0" r="1.7"/><circle cx="144.9" cy="222.3" r="1.7"/><circle cx="193.4" cy="199.1" r="1.7"/><circle cx="194.1" cy="198.4" r="1.7"/><circle cx="185.6" cy="224.4" r="1.7"/><circle cx="191.4" cy="224.5" r="1.7"/><circle cx="172.8" cy="221.1" r="1.7"/><circle cx="179.8" cy="221.4" r="1.7"/><circle cx="158.0" cy="204.9" r="1.7"/><circle cx="151.7" cy="212.7" r="1.7"/><circle cx="141.1" cy="225.1" r="1.7"/></g><g style="fill:#1f77b4;stroke:#1f77b4;fill-opacity:0.85;stroke-opacity:0.85"><circle cx="89.3" cy="285.2" r="1.7"/><circle cx="90.0" cy="281.8" r="1.7"/><circle cx="92.2" cy="274.5" r="1.7"/><circle cx="97.3" cy="272.4" r="1.7"/><circle cx="106.0" cy="269.5" r="1.7"/><circle cx="68.9" cy="284.7" r="1.7"/><circle cx="143.1" cy="261.5" r="1.7"/><circle cx="173.6" cy="245.0" r="1.7"/><circle cx="159.1" cy="236.7" r="1.7"/><circle cx="147.5" cy="257.8" r="1.7"/><circle cx="163.5" cy="190.2" r="1.7"/><circle cx="138.2" cy="183.2" r="1.7"/><circle cx="127.3" cy="198.0" r="1.7"/><circle cx="128.7" cy="196.5" r="1.7"/><circle cx="163.6" cy="198.0" r="1.7"/><circle cx="127.7" cy="256.7" r="1.7"/><circle cx="78.8" cy="269.0" r="1.7"/><circle cx="83.3" cy="261.3" r="1.7"/><circle cx="81.0" cy="272.9" r="1.7"/><circle cx="114.5" cy="254.2" r="1.7"/><circle cx="81.9" cy="282.3" r="1.7"/><circle cx="82.9" cy="258.5" r="1.7"/><circle cx="106.4" cy="253.0" r="1.7"/><circle cx="104.8" cy="259.2" r="1.7"/><circle cx="79.8" cy="282.8" r="1.7"/><circle cx="72.3" cy="285.0" r="1.7"/><circle cx="85.2" cy="281.1" r="1.7"/><circle cx="108.3" cy="254.0" r="1.7"/><circle cx="72.6" cy="273.0" r="1.7"/><circle cx="105.8" cy="254.0" r="1.7"/><circle cx="95.6" cy="259.2" r="1.7"/><circle cx="84.5" cy="269.7" r="1.7"/><circle cx="88.4" cy="256.1" r="1.7"/><circle cx="125.4" cy="255.6" r="1.7"/><circle cx="77.0" cy="261.4" r="1.7"/><circle cx="80.5" cy="273.7" r="1.7"/><circle cx="95.7" cy="262.4" r="1.7"/><circle cx="136.7" cy="258.7" r="1.7"/><circle cx="135.5" cy="246.8" r="1.7"/><circle cx="137.0" cy="238.2" r="1.7"/><circle cx="142.1" cy="251.0" r="1.7"/><circle cx="146.9" cy="255.7" r="1.7"/><circle cx="152.9" cy="255.4" r="1.7"/><circle cx="132.1" cy="237.1" r="1.7"/><circle cx="137.7" cy="248.4" r="1.7"/><circle cx="156.5" cy="249.8" r="1.7"/><circle cx="150.4" cy="246.4" r="1.7"/><circle cx="156.9" cy="247.3" r="1.7"/><circle cx="156.6" cy="252.1" r="1.7"/><circle cx="146.4" cy="238.0" r="1.7"/><circle cx="134.9" cy="248.4" r="1.7"/><circle cx="128.8" cy="218.9" r="1.7"/><circle cx="111.5" cy="236.7" r="1.7"/><circle cx="118.4" cy="234.8" r="1.7"/><circle cx="99.2" cy="236.0" r="1.7"/><circle cx="114.2" cy="247.1" r="1.7"/><circle cx="124.4" cy="246.4" r="1.7"/><circle cx="128.1" cy="232.1" r="1.7"/><circle cx="125.4" cy="219.4" r="1.7"/><circle cx="103.2" cy="246.3" r="1.7"/><circle cx="106.4" cy="243.6" r="1.7"/><circle cx="100.5" cy="238.4" r="1.7"/><circle cx="124.7" cy="242.4" r="1.7"/><circle cx="102.7" cy="232.5" r="1.7"/><circle cx="98.0" cy="235.1" r="1.7"/><circle cx="116.7" cy="244.6" r="1.7"/><circle cx="90.7" cy="245.7" r="1.7"/><circle cx="118.0" cy="239.0" r="1.7"/><circle cx="115.4" cy="248.0" r="1.7"/><circle cx="91.3" cy="247.4" r="1.7"/><circle cx="128.3" cy="213.7" r="1.7"/><circle cx="103.0" cy="244.4" r="1.7"/><circle cx="103.8" cy="234.8" r="1.7"/><circle cx="95.0" cy="241.5" r="1.7"/><circle cx="143.0" cy="228.1" r="1.7"/><circle cx="159.3" cy="223.5" r="1.7"/><circle cx="172.6" cy="213.6" r="1.7"/><circle cx="133.8" cy="234.7" r="1.7"/><circle cx="154.8" cy="207.5" r="1.7"/><circle cx="147.0" cy="223.9" r="1.7"/><circle cx="159.3" cy="221.5" r="1.7"/><circle cx="175.9" cy="228.5" r="1.7"/><circle cx="146.2" cy="231.8" r="1.7"/><circle cx="162.3" cy="204.8" r="1.7"/><circle cx="165.4" cy="220.8" r="1.7"/><circle cx="133.6" cy="216.5" r="1.7"/><circle cx="175.7" cy="221.3" r="1.7"/><circle cx="151.7" cy="214.2" r="1.7"/><circle cx="158.8" cy="219.8" r="1.7"/><circle cx="162.3" cy="222.9" r="1.7"/><circle cx="147.5" cy="212.1" r="1.7"/><circle cx="132.2" cy="208.4" r="1.7"/><circle cx="163.4" cy="220.9" r="1.7"/><circle cx="146.1" cy="230.5" r="1.7"/><circle cx="155.8" cy="214.8" r="1.7"/><circle cx="163.5" cy="229.9" r="1.7"/><circle cx="150.9" cy="215.2" r="1.7"/><circle cx="161.9" cy="218.2" r="1.7"/><circle cx="146.6" cy="208.4" r="1.7"/><circle cx="160.1" cy="213.0" r="1.7"/><circle cx="143.7" cy="216.9" r="1.7"/><circle cx="147.4" cy="208.4" r="1.7"/><circle cx="148.2" cy="222.6" r="1.7"/></g><g style="fill:#1f77b4;stroke:#1f77b4;fill-opacity:0.9;stroke-opacity:0.9"><circle cx="116.2" cy="269.7" r="1.7"/><circle cx="93.6" cy="278.9" r="1.7"/><circle cx="70.4" cy="273.8" r="1.7"/><circle cx="79.8" cy="285.5" r="1.7"/><circle cx="75.9" cy="283.2" r="1.7"/><circle cx="123.1" cy="259.4" r="1.7"/><circle cx="81.7" cy="282.6" r="1.7"/><circle cx="126.6" cy="253.6" r="1.7"/><circle cx="117.4" cy="252.7" r="1.7"/><circle cx="85.1" cy="265.0" r="1.7"/><circle cx="91.6" cy="269.2" r="1.7"/><circle cx="86.1" cy="274.6" r="1.7"/><circle cx="75.5" cy="277.1" r="1.7"/><circle cx="100.5" cy="257.1" r="1.7"/><circle cx="91.2" cy="258.3" r="1.7"/><circle cx="110.8" cy="256.2" r="1.7"/><circle cx="89.2" cy="268.3" r="1.7"/><circle cx="122.4" cy="256.7" r="1.7"/><circle cx="126.7" cy="258.3" r="1.7"/><circle cx="145.7" cy="241.1" r="1.7"/><circle cx="139.6" cy="253.1" r="1.7"/><circle cx="135.3" cy="250.1" r="1.7"/><circle cx="138.4" cy="253.3" r="1.7"/><circle cx="141.0" cy="258.3" r="1.7"/><circle cx="130.6" cy="237.6" r="1.7"/><circle cx="137.1" cy="244.7" r="1.7"/><circle cx="153.2" cy="251.0" r="1.7"/><circle cx="152.2" cy="249.7" r="1.7"/><circle cx="146.3" cy="246.6" r="1.7"/><circle cx="121.8" cy="226.9" r="1.7"/><circle cx="109.8" cy="233.5" r="1.7"/><circle cx="109.6" cy="225.7" r="1.7"/><circle cx="104.1" cy="250.2" r="1.7"/><circle cx="106.7" cy="243.7" r="1.7"/><circle cx="122.0" cy="245.0" r="1.7"/><circle cx="126.4" cy="250.4" r="1.7"/><circle cx="128.4" cy="239.9" r="1.7"/><circle cx="116.7" cy="249.2" r="1.7"/><circle cx="110.7" cy="242.6" r="1.7"/><circle cx="126.4" cy="226.8" r="1.7"/><circle cx="119.3" cy="242.2" r="1.7"/><circle cx="110.4" cy="234.4" r="1.7"/><circle cx="107.3" cy="249.1" r="1.7"/><circle cx="115.6" cy="230.2" r="1.7"/><circle cx="129.7" cy="249.8" r="1.7"/><circle cx="115.0" cy="227.1" r="1.7"/><circle cx="122.9" cy="217.2" r="1.7"/><circle cx="128.6" cy="210.0" r="1.7"/><circle cx="120.7" cy="218.2" r="1.7"/><circle cx="129.0" cy="251.7" r="1.7"/><circle cx="92.1" cy="251.3" r="1.7"/><circle cx="120.9" cy="243.1" r="1.7"/><circle cx="98.7" cy="251.9" r="1.7"/><circle cx="99.5" cy="251.6" r="1.7"/><circle cx="113.8" cy="249.2" r="1.7"/><circle cx="118.4" cy="247.6" r="1.7"/><circle cx="142.3" cy="223.1" r="1.7"/><circle cx="133.1" cy="229.2" r="1.7"/><circle cx="133.0" cy="230.4" r="1.7"/><circle cx="151.6" cy="233.4" r="1.7"/><circle cx="138.5" cy="219.9" r="1.7"/><circle cx="133.0" cy="214.1" r="1.7"/><circle cx="134.1" cy="227.1" r="1.7"/><circle cx="141.4" cy="207.6" r="1.7"/><circle cx="147.6" cy="208.6" r="1.7"/><circle cx="150.9" cy="213.4" r="1.7"/><circle cx="156.4" cy="215.5" r="1.7"/></g><g style="fill:#1f77b4;stroke:#1f77b4;fill-opacity:0.95;stroke-opacity:0.95"><circle cx="64.3" cy="289.1" r="1.7"/><circle cx="67.2" cy="292.7" r="1.7"/><circle cx="88.5" cy="273.1" r="1.7"/><circle cx="89.5" cy="267.2" r="1.7"/><circle cx="84.7" cy="277.5" r="1.7"/><circle cx="73.3" cy="278.5" r="1.7"/><circle cx="80.7" cy="282.3" r="1.7"/><circle cx="77.0" cy="269.5" r="1.7"/><circle cx="70.7" cy="274.5" r="1.7"/><circle cx="80.9" cy="267.3" r="1.7"/><circle cx="99.3" cy="262.5" r="1.7"/><circle cx="80.0" cy="261.5" r="1.7"/><circle cx="87.6" cy="255.1" r="1.7"/><circle cx="106.0" cy="238.1" r="1.7"/><circle cx="99.0" cy="248.7" r="1.7"/><circle cx="106.7" cy="228.4" r="1.7"/><circle cx="91.9" cy="246.8" r="1.7"/><circle cx="110.5" cy="224.2" r="1.7"/><circle cx="108.2" cy="244.2" r="1.7"/><circle cx="89.1" cy="249.7" r="1.7"/><circle cx="106.3" cy="228.1" r="1.7"/><circle cx="99.3" cy="240.4" r="1.7"/><circle cx="121.3" cy="247.3" r="1.7"/><circle cx="103.5" cy="236.2" r="1.7"/></g><g style="fill:#1f77b4;stroke:#1f77b4"><circle cx="82.0" cy="282.5" r="1.7"/></g><g style="fill:#ff7f0e;stroke:#ff7f0e;fill-opacity:0.45;stroke-opacity:0.45"><circle cx="184.5" cy="202.5" r="1.7"/><circle cx="186.7" cy="215.6" r="1.7"/><circle cx="207.1" cy="215.6" r="1.7"/><circle cx="220.2" cy="181.5" r="1.7"/><circle cx="236.9" cy="181.2" r="1.7"/><circle cx="207.1" cy="175.6" r="1.7"/></g><g style="fill:#ff7f0e;stroke:#ff7f0e;fill-opacity:0.6;stroke-opacity:0.6"><circle cx="315.5" cy="205.0" r="1.7"/><circle cx="442.0" cy="249.5" r="1.7"/><circle cx="445.6" cy="253.1" r="1.7"/><circle cx="447.8" cy="249.5" r="1.7"/></g><g style="fill:#ff7f0e;stroke:#ff7f0e"><circle cx="57.6" cy="259.6" r="1.7"/><circle cx="82.3" cy="260.0" r="1.7"/><circle cx="84.2" cy="266.5" r="1.7"/><circle cx="96.3" cy="254.2" r="1.7"/><circle cx="153.6" cy="254.6" r="1.7"/><circle cx="91.5" cy="196.4" r="1.7"/><circle cx="98.7" cy="201.1" r="1.7"/><circle cx="106.0" cy="203.3" r="1.7"/><circle cx="113.3" cy="203.6" r="1.7"/><circle cx="116.2" cy="197.5" r="1.7"/><circle cx="118.4" cy="196.7" r="1.7"/><circle cx="122.7" cy="198.2" r="1.7"/><circle cx="125.6" cy="197.5" r="1.7"/><circle cx="124.9" cy="202.5" r="1.7"/><circle cx="123.5" cy="200.4" r="1.7"/><circle cx="87.5" cy="208.8" r="1.7"/><circle cx="91.5" cy="211.3" r="1.7"/><circle cx="90.0" cy="213.2" r="1.7"/><circle cx="93.6" cy="215.6" r="1.7"/><circle cx="97.3" cy="207.6" r="1.7"/><circle cx="100.2" cy="209.4" r="1.7"/><circle cx="103.8" cy="208.8" r="1.7"/><circle cx="107.5" cy="210.8" r="1.7"/><circle cx="99.5" cy="213.7" r="1.7"/><circle cx="109.6" cy="224.4" r="1.7"/><circle cx="114.7" cy="222.5" r="1.7"/><circle cx="126.4" cy="210.5" r="1.7"/><circle cx="80.8" cy="233.8" r="1.7"/><circle cx="83.5" cy="242.3" r="1.7"/><circle cx="71.8" cy="246.2" r="1.7"/><circle cx="70.4" cy="249.1" r="1.7"/><circle cx="99.5" cy="239.3" r="1.7"/><circle cx="107.5" cy="238.9" r="1.7"/><circle cx="117.6" cy="233.5" r="1.7"/><circle cx="136.5" cy="180.5" r="1.7"/><circle cx="142.0" cy="182.9" r="1.7"/><circle cx="141.5" cy="180.7" r="1.7"/><circle cx="143.8" cy="180.0" r="1.7"/><circle cx="147.5" cy="186.5" r="1.7"/><circle cx="135.1" cy="189.5" r="1.7"/><circle cx="130.7" cy="196.7" r="1.7"/><circle cx="140.9" cy="200.1" r="1.7"/><circle cx="149.6" cy="204.0" r="1.7"/><circle cx="156.2" cy="181.2" r="1.7"/><circle cx="162.0" cy="213.5" r="1.7"/><circle cx="138.7" cy="220.7" r="1.7"/><circle cx="139.5" cy="223.6" r="1.7"/><circle cx="396.4" cy="153.9" r="1.7"/><circle cx="263.4" cy="143.6" r="1.7"/><circle cx="171.5" cy="140.0" r="1.7"/><circle cx="175.8" cy="140.0" r="1.7"/><circle cx="175.1" cy="145.8" r="1.7"/><circle cx="178.7" cy="147.3" r="1.7"/><circle cx="179.5" cy="151.6" r="1.7"/><circle cx="175.8" cy="155.3" r="1.7"/><circle cx="217.3" cy="141.5" r="1.7"/><circle cx="237.2" cy="151.2" r="1.7"/><circle cx="179.9" cy="168.7" r="1.7"/><circle cx="124.9" cy="150.5" r="1.7"/><circle cx="97.7" cy="165.9" r="1.7"/><circle cx="128.5" cy="166.9" r="1.7"/><circle cx="111.4" cy="179.0" r="1.7"/><circle cx="116.6" cy="177.5" r="1.7"/><circle cx="122.0" cy="180.0" r="1.7"/><circle cx="127.1" cy="180.4" r="1.7"/><circle cx="129.3" cy="179.0" r="1.7"/><circle cx="99.2" cy="188.7" r="1.7"/><circle cx="113.7" cy="188.0" r="1.7"/><circle cx="118.4" cy="188.7" r="1.7"/><circle cx="120.5" cy="187.3" r="1.7"/><circle cx="122.7" cy="190.2" r="1.7"/><circle cx="125.6" cy="185.8" r="1.7"/><circle cx="127.8" cy="190.9" r="1.7"/><circle cx="126.4" cy="193.1" r="1.7"/><circle cx="121.3" cy="195.0" r="1.7"/><circle cx="151.0" cy="122.8" r="1.7"/><circle cx="177.6" cy="123.8" r="1.7"/><circle cx="189.3" cy="133.6" r="1.7"/><circle cx="156.5" cy="137.6" r="1.7"/><circle cx="179.1" cy="136.9" r="1.7"/><circle cx="181.3" cy="136.9" r="1.7"/><circle cx="151.0" cy="143.2" r="1.7"/><circle cx="140.3" cy="148.1" r="1.7"/><circle cx="161.6" cy="147.5" r="1.7"/><circle cx="164.5" cy="148.5" r="1.7"/><circle cx="165.3" cy="150.4" r="1.7"/><circle cx="163.1" cy="153.9" r="1.7"/><circle cx="132.5" cy="151.5" r="1.7"/><circle cx="134.4" cy="153.3" r="1.7"/><circle cx="136.6" cy="157.3" r="1.7"/><circle cx="141.3" cy="156.5" r="1.7"/><circle cx="144.9" cy="153.6" r="1.7"/><circle cx="148.5" cy="153.6" r="1.7"/><circle cx="146.4" cy="157.3" r="1.7"/><circle cx="149.3" cy="158.0" r="1.7"/><circle cx="151.5" cy="157.3" r="1.7"/><circle cx="143.5" cy="160.9" r="1.7"/><circle cx="147.8" cy="160.2" r="1.7"/><circle cx="150.7" cy="162.4" r="1.7"/><circle cx="157.3" cy="159.5" r="1.7"/><circle cx="158.0" cy="161.6" r="1.7"/><circle cx="133.0" cy="162.7" r="1.7"/><circle cx="136.2" cy="165.0" r="1.7"/><circle cx="152.2" cy="163.8" r="1.7"/><circle cx="266.0" cy="82.5" r="1.7"/><circle cx="220.5" cy="111.8" r="1.7"/><circle cx="235.8" cy="110.0" r="1.7"/><circle cx="214.0" cy="128.7" r="1.7"/><circle cx="254.5" cy="129.1" r="1.7"/><circle cx="144.7" cy="155.8" r="1.7"/><circle cx="150.5" cy="154.4" r="1.7"/><circle cx="153.5" cy="158.0" r="1.7"/><circle cx="156.4" cy="163.1" r="1.7"/><circle cx="131.6" cy="168.9" r="1.7"/><circle cx="133.8" cy="167.5" r="1.7"/><circle cx="137.5" cy="170.4" r="1.7"/><circle cx="136.0" cy="172.5" r="1.7"/><circle cx="141.8" cy="171.1" r="1.7"/><circle cx="139.6" cy="166.7" r="1.7"/><circle cx="140.4" cy="168.9" r="1.7"/><circle cx="133.8" cy="171.1" r="1.7"/><circle cx="138.2" cy="173.3" r="1.7"/><circle cx="148.4" cy="164.5" r="1.7"/><circle cx="153.5" cy="170.4" r="1.7"/><circle cx="160.0" cy="171.8" r="1.7"/><circle cx="158.5" cy="167.2" r="1.7"/><circle cx="136.7" cy="176.9" r="1.7"/><circle cx="138.9" cy="177.6" r="1.7"/><circle cx="142.5" cy="184.9" r="1.7"/><circle cx="149.1" cy="176.9" r="1.7"/><circle cx="151.3" cy="175.5" r="1.7"/><circle cx="150.5" cy="178.4" r="1.7"/><circle cx="125.8" cy="195.1" r="1.7"/></g></g><g style="fill:#000000;stroke:#000000;stroke-width:0.12px;font-family:'DejaVu Sans',sans-serif"><text x="49.82" y="335.41" text-anchor="middle" font-size="11.57">−120</text><text x="85.81" y="343.13" text-anchor="middle" font-size="11.57">−110</text><text x="122.21" y="350.95" text-anchor="middle" font-size="11.57">−100</text><text x="159.04" y="358.85" text-anchor="middle" font-size="11.57">−90</text><text x="196.30" y="366.84" text-anchor="middle" font-size="11.57">−80</text><text x="233.99" y="374.93" text-anchor="middle" font-size="11.57">−70</text><text x="272.13" y="383.11" text-anchor="middle" font-size="11.57">−60</text><text x="354.68" y="371.88" text-anchor="middle" font-size="11.57">−15</text><text x="380.21" y="354.80" text-anchor="middle" font-size="11.57">−10</text><text x="405.10" y="338.15" text-anchor="middle" font-size="11.57">−5</text><text x="429.39" y="321.90" text-anchor="middle" font-size="11.57">0</text><text x="453.09" y="306.03" text-anchor="middle" font-size="11.57">5</text><text x="476.23" y="290.55" text-anchor="middle" font-size="11.57">10</text><text x="492.76" y="270.15" text-anchor="middle" font-size="11.57">0</text><text x="494.50" y="244.74" text-anchor="middle" font-size="11.57">2</text><text x="496.26" y="219.00" text-anchor="middle" font-size="11.57">4</text><text x="498.05" y="192.91" text-anchor="middle" font-size="11.57">6</text><text x="499.85" y="166.48" text-anchor="middle" font-size="11.57">8</text><text x="501.67" y="139.70" text-anchor="middle" font-size="11.57">10</text><text x="503.52" y="112.55" text-anchor="middle" font-size="11.57">12</text><text x="152.40" y="364.70" text-anchor="middle" font-size="11.57" transform="rotate(12.0 152.40 364.70)">rssi_mean</text><text x="423.00" y="338.00" text-anchor="middle" font-size="11.57" transform="rotate(-33.0 423.00 338.00)">snr_mean</text><text x="517.00" y="170.50" text-anchor="middle" font-size="11.57" transform="rotate(-90 517.00 170.50)">snr_std</text><text x="243.40" y="25.90" text-anchor="middle" font-size="14.1" style="stroke-width:0.3px">Ground truth</text></g><g style="fill:#000000;font-family:'DejaVu Sans',sans-serif"><g><rect x="417.8" y="4.8" width="126.3" height="54.4" rx="2.3" ry="2.3" style="fill:#ffffff;fill-opacity:0.8;stroke:#cccccc;stroke-width:1"/><circle cx="433.7" cy="14.5" r="1.9" fill="#1f77b4"/><circle cx="433.7" cy="31.4" r="1.9" fill="#ff7f0e"/><circle cx="433.7" cy="48.3" r="1.9" fill="#2ca02c"/><g style="stroke:#000;stroke-width:0.12px"><text x="454.9" y="17.5" font-size="11.7">FIXED</text><text x="454.9" y="34.4" font-size="11.7">MOBILE</text><text x="454.9" y="51.3" font-size="11.7">DEEP_INDOOR</text></g></g></g></svg> 
</body></html>
